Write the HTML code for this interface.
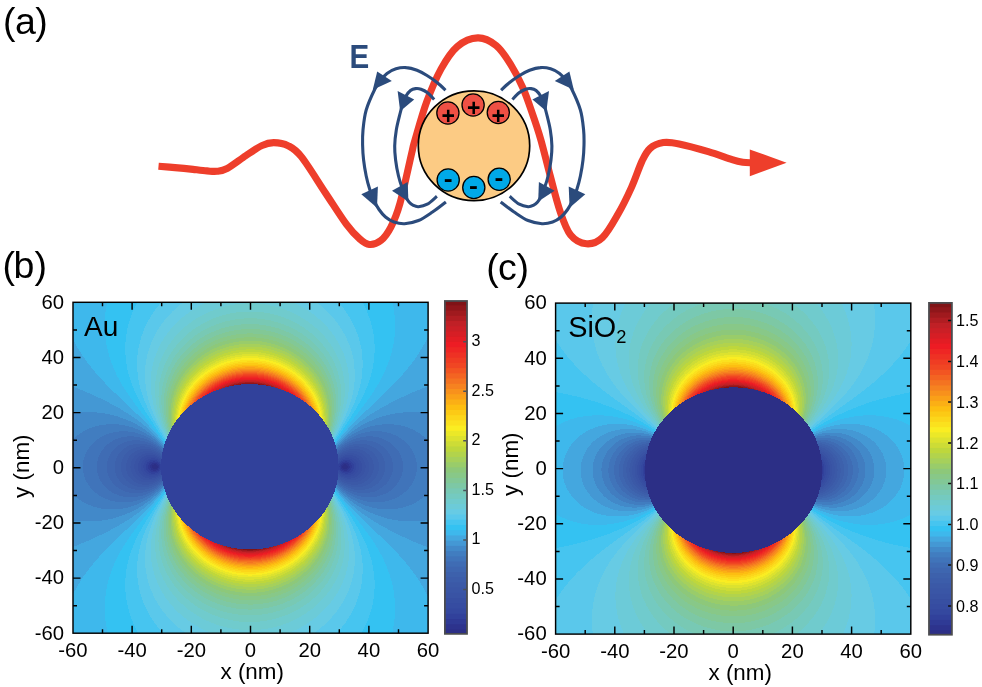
<!DOCTYPE html>
<html lang="en"><head><meta charset="utf-8"><title>Figure</title>
<style>html,body{margin:0;padding:0;background:#fff}body{width:982px;height:687px;overflow:hidden}svg{display:block}</style></head>
<body>
<svg width="982" height="687" viewBox="0 0 982 687" font-family="'Liberation Sans', sans-serif" fill="#000">
<rect width="982" height="687" fill="#fff"/>
<g id="hm-b" shape-rendering="crispEdges">
<rect x="73" y="302.3" width="355.1" height="330.9" fill="#2c2f86"/>
<path fill="#2d338d" d="M73 633.2l355 0 0-330.9-355 0zM154.3 469.2l-0.7-0.2-0.9-0.5-0.5-0.7-0.2-1.4 0.3-0.7 0.5-0.7 0.8-0.5 0.7-0.2 1.5 0.1 0.7 0.4 0.8 0.7 0.3 0.9 0.1 0.7-0.4 0.9-0.8 0.8-0.7 0.3zM344.5 469.2l-0.8-0.2-0.8-0.5-0.5-0.7-0.2-1.4 0.2-0.7 0.6-0.7 0.7-0.4 0.8-0.3 1.4 0.1 1.1 0.6 0.6 0.7 0.2 0.7-0.2 1.4-0.5 0.7-1.2 0.6z"/>
<path fill="#2f3a95" d="M73 633.2l355 0 0-330.9-355 0zM153.6 470.6l-1.9-0.8-1.1-1.1-0.5-1.6 0.1-1.4 0.8-1.4 1.1-0.8 1.5-0.6 2.2 0.1 1.5 0.7 1.3 1.3 0.4 1.4-0.1 1.4-0.9 1.5-1.5 1-1.4 0.4zM344.5 470.7l-1.5-0.5-1.5-1.3-0.6-1.1-0.1-0.7 0.1-1.4 0.9-1.4 1.2-0.9 1.5-0.5 2.2 0.1 1.5 0.7 1.1 1.3 0.4 1.4-0.1 1.4-0.7 1.4-1.5 1.1-1.5 0.4z"/>
<path fill="#31419b" d="M73 633.2l355 0 0-330.9-355 0zM152.1 471.9l-1.5-0.6-0.7-0.6-1.3-1.5-0.5-1.4-0.1-1.4 0.7-2.1 1.2-1.5 0.8-0.5 1.4-0.7 1.5-0.2 1.5 0 2.2 0.8 1.5 1 1.2 1.8 0.4 2.1-0.7 2.1-1.1 1.3-2.1 1.2-2.2 0.5zM344.5 472.1l-2.3-0.9-1.4-1.2-0.7-0.8-0.7-2.1 0.4-2.1 1-1.5 0.7-0.7 1.5-0.9 1.5-0.4 1.4-0.1 2.3 0.4 1.9 1.1 1.1 1.4 0.6 2.1-0.3 2.1-1.1 1.8-1.5 1.1-2.2 0.7z"/>
<path fill="#34489f" d="M73 633.2l355 0 0-330.9-355 0zM151.4 473.5l-1.5-0.6-1.5-0.9-0.9-0.8-0.9-1.4-0.6-1.3-0.2-1.4 0.1-1.4 0.4-1.4 1.4-2.1 1.4-1.2 1.5-0.7 1.5-0.4 2.2 0 1.5 0.3 1.5 0.5 2.2 1.5 1.6 2.1 0.5 2.1-0.1 1.4-0.4 1.4-0.8 1.3-0.8 0.8-2.2 1.6-1.5 0.5-1.5 0.3-1.5 0zM343.7 473.3l-1.5-0.6-1.2-0.8-1-0.9-0.9-1.2-0.6-1.3-0.3-1.4 0.1-1.4 0.5-1.4 0.8-1.4 1.2-1.1 1.4-0.9 1.5-0.6 1.5-0.4 2.2 0 1.5 0.3 1.5 0.6 1.1 0.8 1.1 1.1 0.6 0.9 0.6 1.4 0.2 1.4 0 1.4-0.7 2-0.7 1.1-1 1-1.2 0.8-1.3 0.6-2.4 0.4-1.5-0.1z"/>
<path fill="#364ca1" d="M73 633.2l355 0 0-330.9-355 0zM149.1 474.7l-1.5-0.7-1.8-1.4-1.1-1.4-1-2-0.3-1.4 0-2.1 0.6-2.1 0.7-1.3 1.2-1.4 1.8-1.3 1.7-0.8 2-0.4 1.4-0.1 2.3 0.2 2.2 0.8 1.5 0.8 1.4 1.2 0.9 1 0.9 1.3 0.5 1.4 0.3 1.4-0.1 1.4-0.4 1.4-0.6 1.3-1.1 1.4-1.1 1-1.5 1-2.2 0.9-1.5 0.4-2.2 0.1zM343.7 474.7l-2.2-1-1.5-1-1.4-1.5-0.8-1.3-0.5-1.4-0.3-1.4 0.3-2.1 0.5-1.4 0.9-1.3 1.3-1.4 1.5-1.1 2.2-1 2.2-0.5 2.3 0 2.2 0.5 1.5 0.6 1.4 1 1.3 1.2 0.9 1.3 0.6 1.4 0.3 1.4 0 2.1-0.3 1.4-0.6 1.3-0.9 1.4-1.3 1.3-1.4 1-1.5 0.6-3 0.5-2.2-0.2z"/>
<path fill="#374fa2" d="M73 633.2l355 0 0-330.9-355 0zM149.9 476.8l-2.2-0.5-1.5-0.7-1.5-0.9-1.5-1.3-1.1-1.5-0.7-1.4-0.5-1.3-0.3-2.1 0.2-2.1 0.4-1.4 1-2 1-1.4 1.5-1.3 1.5-1 1.5-0.6 2.2-0.5 2.2-0.2 2.2 0.3 2.2 0.7 2.3 1.1 2 1.5 1.2 1.4 1.2 2 0.7 2.1 54.7 0.7 6.7 0.7-61.4 0.7-0.6 2-1.2 2.1-1.2 1.4-2.1 1.6-2.3 1.1-2.2 0.7-2.2 0.2zM345.9 476.7l-2.2-0.5-1.5-0.6-1.4-0.9-1.5-1.1-2-2.4-1.7-3.4-61.1-0.7 6.7-0.7 54.4-0.7 1.3-2.8 0.9-1.3 1.5-1.6 2.2-1.6 2.2-1 2.2-0.6 3-0.1 2.2 0.3 2.2 0.8 1.5 0.9 1.8 1.5 1 1.4 0.8 1.3 0.6 2.1 0.2 2.1-0.3 2.1-0.8 2-0.9 1.4-1.2 1.4-1.9 1.4-1.5 0.7-2.2 0.6-2.2 0.2z"/>
<path fill="#3953a4" d="M73 633.2l355 0 0-330.9-355 0zM146.9 478.2l-2.2-0.8-2.2-1.3-1.7-1.4-1.1-1.4-0.8-1.4-0.9-2.1-0.3-2 0-2.1 0.4-2.1 0.8-2 1.4-2.1 1.3-1.4 1.6-1.2 1.7-0.8 2-0.8 2.2-0.3 2.3-0.1 2.2 0.3 2.2 0.6 2.2 1 2.2 1.4 1.5 1.3 1.1 1.4 1.1 1.7 78 3.8 1.7 0.7-79.7 3.8-1.4 2.3-1.5 1.5-2.2 1.6-2.3 1.2-2.2 0.7-2.9 0.5-2.3-0.1zM345.2 478.1l-3-1.1-2.2-1.3-2.2-2-2.2-2.8-79.4-3.8 1.7-0.7 77.7-3.8 2.2-2.7 1.5-1.4 2.2-1.5 3-1.3 2.2-0.6 2.9-0.2 3 0.4 2.2 0.7 2.2 1.2 1.5 1.2 1.6 1.8 1.1 2.1 0.7 2 0.3 2.1-0.3 2.8-0.6 2-1.2 2.1-1.6 1.9-1.5 1.1-2.2 1.3-2.2 0.7-2.2 0.3-3 0z"/>
<path fill="#3a56a6" d="M73 633.2l355 0 0-330.9-355 0zM146.2 480.3l-2.8-0.8-2.4-1.1-2.2-1.7-1.4-1.3-1.4-2.1-1-2.1-0.5-2-0.3-2.8 0.4-2.8 0.7-2 1.2-2.1 1.6-2.1 1.6-1.3 2.3-1.4 2.7-1.1 2.2-0.4 2.2-0.2 3 0.3 2.2 0.5 2.2 0.8 3.7 2.2 2.3 2 1.4 1.9 0.8 0.1 79.6 5.6 1.2 0.7-80.8 5.6-0.8 0.2-1.4 1.9-2.3 2-2.2 1.4-2.2 1-2.2 0.8-2.2 0.4-3 0.1zM347.4 480.2l-3.7-1.1-2.9-1.5-2.9-2.2-2.3-2.6-81.3-5.7 1.2-0.7 80.1-5.6 2.2-2.5 1.5-1.3 2.2-1.5 3-1.4 2.9-0.8 3-0.3 2.9 0.2 2.3 0.6 2.2 0.9 2.3 1.4 2.2 2 1.5 2.1 1 2.1 0.7 2.7 0 2.8-0.5 2.7-1.2 2.8-1.4 2.1-1.7 1.6-2.2 1.5-2.2 1.1-3 0.7-2.9 0.2z"/>
<path fill="#3b59a7" d="M73 633.2l355 0 0-330.9-355 0zM144.7 482.4l-2.9-0.7-2.3-0.9-2.2-1.3-2.5-2.1-1.7-2-1.5-2.8-0.9-2.8-0.3-2.7 0.2-2.8 0.7-2.7 1.4-2.8 1.5-2.1 2.2-2 2.4-1.6 3-1.2 2.9-0.7 2.2-0.2 3 0.2 2.9 0.5 2.3 0.8 2.2 1 2.2 1.3 2.2 1.8 2.2 2.3 0.8 0.4 80.8 7.1 0.9 0.7-81.7 7.2-0.8 0.3-2.2 2.4-2.2 1.7-2.2 1.4-2.2 1-2.3 0.7-2.9 0.6-3 0.1zM349.6 482.4l-2.2-0.5-2.2-0.6-3.7-1.8-3-2.1-2.9-3.1-82.2-7.2 0.9-0.7 81.3-7.1 2.2-2.5 2.2-1.8 2.2-1.4 3-1.3 3-0.8 2.9-0.4 3 0 2.2 0.3 2.9 0.9 3 1.5 2.7 2.3 1.8 2 1.5 2.8 0.9 2.7 0.3 2.8-0.3 3.4-0.9 2.8-1.5 2.8-2.3 2.6-2.2 1.7-3 1.5-2.9 0.9-3 0.4z"/>
<path fill="#3c5daa" d="M73 633.2l355 0 0-330.9-355 0zM141.8 484.5l-3-0.8-3-1.2-2.6-1.6-2.5-2.3-2-2.6-1.4-2.7-0.9-2.8-0.4-3.4 0.3-3.5 0.7-2.7 1.3-2.8 2-2.7 2.6-2.4 2.7-1.8 3.2-1.4 3-0.7 2.9-0.3 3 0.1 2.9 0.5 3 0.9 2.9 1.3 3 1.8 2.2 1.7 2.2 2.3 0.8 0.5 81.4 8.5 0.9 0.7-82.3 8.6-0.8 0.5-2.2 2.3-2.2 1.7-3 1.8-2.9 1.3-3 0.9-2.9 0.5-3 0zM350.4 484.4l-4.5-1.2-3.7-1.8-3.7-2.6-2.9-3-0.8-0.2-82-8.5 0.8-0.7 81.2-8.5 0.8-0.2 2.2-2.3 3-2.3 2.9-1.8 3-1.2 2.9-0.8 3.7-0.5 3.7 0.2 3 0.5 3.7 1.4 2.9 1.8 2.9 2.7 2 2.7 1.3 2.8 0.9 3.4 0.1 3.5-0.5 3.4-1.4 3.5-1.8 2.7-2.6 2.8-3.1 2-3.1 1.4-3.5 0.9-3.7 0.3z"/>
<path fill="#3d61ac" d="M73 633.2l355 0 0-330.9-355 0zM140.3 487.1l-3.7-0.7-3.7-1.3-3-1.7-3.1-2.5-2.4-2.8-2-3.4-1.1-3.5-0.5-3.4 0.2-4.2 0.9-3.4 1.7-3.5 1.9-2.6 2.9-2.9 3-1.9 3.2-1.5 3.5-1 3.1-0.4 3.5 0 3.7 0.5 3.7 1.1 3.7 1.6 3 1.8 2.9 2.3 3 2.8 82 9.9 0.6 0.7-82.6 9.9-3 2.9-2.2 1.8-3 1.9-2.9 1.4-3 1.1-3.7 0.8-3.7 0.3zM354.8 487.1l-2.9-0.4-2.3-0.5-2.9-1-2.2-1-4.5-2.7-2.2-1.9-2.2-2.2-0.8-0.4-82.3-9.9 0.7-0.7 0.3 0 81.3-9.8 0.8-0.4 2.2-2.3 3-2.3 2.9-1.9 3.7-1.6 3.7-1.1 3.7-0.6 3.7 0 3 0.4 4.4 1.3 3.5 1.7 3.2 2.5 2.7 3.1 2 3.4 1.2 3.5 0.5 3.4-0.2 4.1-1.1 4.2-1.8 3.4-2.2 2.8-3.1 2.7-3.6 2.1-4.1 1.5-3.7 0.6z"/>
<path fill="#3e66b0" d="M73 633.2l355 0 0-330.9-355 0zM136.6 489.8l-4.5-0.8-4.4-1.8-3.7-2.2-3-2.6-2.9-3.6-1.8-3.4-1.2-3.5-0.6-4.1 0.2-4.2 1.1-4.1 1.5-3.4 2.4-3.5 2.8-2.8 3.8-2.7 3.6-1.8 4.5-1.2 3.7-0.5 4.4 0 4.4 0.8 3.7 1.1 3.7 1.6 3.7 2.2 3.7 2.9 3 3 82.1 11.2 0.8 0.7-82.9 11.2-3 3.1-2.9 2.4-3 1.9-3.7 1.8-3.7 1.3-3.7 0.8-4.4 0.4zM357 489.9l-2.9-0.4-3-0.8-2.9-1-3-1.4-3-1.7-2.2-1.6-5.2-4.7-82.6-11.2 0.6-0.7 82-11.1 3.7-3.5 3.7-2.8 3.7-2.1 3.7-1.6 3.7-1 4.5-0.7 4.4 0 3.7 0.6 4.4 1.3 4.4 2.3 3.5 2.7 3 3.5 1.3 2.1 1 2 1.3 4.2 0.5 4.1-0.1 2.1-0.4 2.7-1.3 4.2-1 2-1.3 2.1-2.9 3.4-3.5 2.8-3.8 2.1-4.4 1.4-4.4 0.7z"/>
<path fill="#3f6cb4" d="M73 633.2l355 0 0-330.9-355 0zM135.1 493.3l-5.2-0.5-5.2-1.5-4.6-2.2-3.9-2.7-3.5-3.5-1.5-2-1.3-2.1-1.8-4.1-0.6-2.1-0.5-2.8-0.2-4.8 0.4-2.7 0.5-2.1 1.5-4.1 2.5-4.2 1.7-2.1 1.7-1.7 4-3.1 4.2-2.2 5.1-1.7 4.5-0.7 5.2-0.1 5.1 0.7 4.5 1.3 4.4 1.8 4.4 2.5 3.7 2.8 2.3 2 2.2 2.4 0.7 0.3 81.4 12.2 0.5 0.1 0.5 0.7-82.4 12.4-0.7 0.3-3 3.1-3.7 3-2.9 2-3.7 1.9-3.7 1.5-4.5 1.3-3.7 0.5zM362.9 493.3l-4.4-0.4-3.7-0.8-3.7-1.2-3.7-1.6-3.7-2.1-2.9-2.1-3-2.5-3-3.1-82.9-12.4 0.8-0.7 82.1-12.4 3.7-3.7 4.5-3.5 4.4-2.5 4.5-1.9 4.4-1.3 5.2-0.8 5.1 0.1 4.5 0.6 5.2 1.7 4.4 2.3 2.2 1.6 2.2 1.9 3 3.4 2.5 4.2 0.9 2 0.8 2.8 0.7 4.8-0.2 4.8-0.6 2.8-0.7 2.1-2 4.1-1.4 2.1-1.6 2-3.7 3.5-4.4 2.7-2.1 1.1-2.9 1-5.3 1.1z"/>
<path fill="#4074ba" d="M73 633.2l355 0 0-330.9-355 0zM124.7 496.8l-2.9-0.6-3-0.8-5-2.1-4.5-2.8-4-3.4-3.4-4.2-1.3-2-1.4-2.8-1.7-4.8-0.7-4.8 0-2.8 0.2-2.8 1.1-4.8 2.1-4.8 2.8-4.1 1.7-2.1 2.1-2.1 2.4-1.9 2.2-1.5 2.6-1.4 2.6-1.2 5.2-1.7 5.2-0.8 5.9-0.2 5.9 0.8 5.9 1.6 5.9 2.5 5.2 3.2 4.4 3.4 5.2 5 82.1 13.6 0.5 0.7-82.6 13.6-4.4 4.4-4.5 3.6-5.1 3.2-5.2 2.4-5.2 1.7-5.2 1-5.9 0.3zM362.9 496.8l-3.7-0.7-3.6-1.1-3.7-1.4-3.7-1.8-3.7-2.3-3-2.1-3.7-3.3-3-3.2-0.7-0.2-82.3-13.6 0.5-0.7 0.4-0.1 81.4-13.4 0.7-0.3 2.3-2.4 2.9-2.8 4.5-3.4 5.1-3 6-2.5 5.9-1.5 5.9-0.7 5.9 0.2 3 0.4 2.9 0.7 3 1 2.9 1.2 3 1.6 2.3 1.6 2.6 2 2.1 2.1 1.8 2.1 1.9 2.7 1.5 2.8 1.1 2.7 0.9 2.8 0.5 2.7 0.2 2.8 0 2.8-0.3 2.7-0.6 2.8-0.9 2.7-1.2 2.8-1.6 2.8-1.5 2-2.1 2.5-2.3 2.1-2.2 1.8-2.9 1.9-2.8 1.4-3.2 1.2-2.9 0.9-3 0.7-5.9 0.5-3-0.1z"/>
<path fill="#417dc0" d="M73 633.2l355 0 0-330.9-355 0zM120.3 502.3l-3.7-0.4-3-0.6-3.7-0.9-2.9-1.1-3.7-1.6-3-1.6-2.9-2-2.3-1.8-2.6-2.5-1.9-2-2-2.8-1.7-2.7-1.4-2.8-1-2.8-0.8-2.7-0.6-3.5-0.2-2.7 0.1-3.5 0.4-3.4 0.7-2.8 0.9-2.7 1.2-2.8 1.5-2.8 1.9-2.7 2.3-2.8 2.1-2 2.4-2.1 2.9-2.1 5.5-3 2.9-1.2 3.7-1.1 5.9-1.2 6-0.4 6.6 0.4 5.9 1.1 4.5 1.4 3.7 1.4 4.4 2.2 3.7 2.2 3.7 2.5 3.7 3.1 3 2.8 2.9 3.3 82.1 14.8 0.7 0.7-82.8 14.9-4.4 4.7-5.2 4.4-5.2 3.5-5.9 3.1-5.9 2.3-5.9 1.5-6.7 0.8zM373.3 502.3l-5.2-0.6-5.2-1.1-5.1-1.8-5.2-2.3-5.2-3-4.4-3.2-3.7-3.2-4.5-4.7-0.7-0.5-82.4-14.8 0.4-0.7 0.6-0.1 81.4-14.6 0.7-0.6 3-3.2 3.7-3.4 3-2.4 3.7-2.5 4.4-2.6 3.7-1.7 4.4-1.6 3.7-1.1 5.9-1.1 6.7-0.3 5.9 0.4 5.9 1.3 3.4 1.1 3.3 1.4 3 1.5 3 1.9 2.8 2.1 2.3 2.1 2.5 2.7 2.1 2.8 1.7 2.7 1.6 3.5 1.2 3.4 0.7 2.8 0.4 3.4 0.1 3.5-0.3 3.4-0.5 2.8-1 3.4-1.1 2.8-1.5 2.7-1.7 2.8-2.2 2.8-2.7 2.7-2.4 2.1-2.8 2-3 1.8-2.9 1.5-3 1.1-3.7 1.2-3.7 0.8-3.7 0.5-3.7 0.2z"/>
<path fill="#4289c9" d="M73 633.2l355 0 0-140.3-4.7 4.5-4.9 3.5-2.9 1.8-3.3 1.6-6.3 2.4-6.7 1.7-6.7 0.9-6.6 0.1-7.4-0.6-6.7-1.3-5.9-1.8-5.9-2.4-5.9-3.1-5.9-3.8-5.2-4.1-4.5-4.2-4.4-5-82.6-16 0.5-0.7 82.1-16 4.4-4.9 4.5-4.2 5.2-4.1 5.9-3.8 5.9-3.1 5.9-2.4 5.9-1.8 6.7-1.3 7.4-0.7 6.6 0.2 6.7 0.8 6.7 1.7 6.6 2.6 5.9 3.2 5.2 3.8 4.5 4.2-0.1-138.3-355 0 0 137.1 4.5-4 2.8-2.1 3-1.8 5.9-3 5.9-2 6.7-1.6 6.7-0.7 6.6 0 6.7 0.6 6.6 1.4 6 1.9 5.9 2.4 5.1 2.7 5.2 3.3 5.2 3.9 5.2 4.8 4.4 5 0.8 0.3 81.3 15.8 0.4 0.1 0.4 0.7-82.1 15.9-0.8 0.4-4.4 5-5.2 4.7-5.2 4-5.2 3.3-5.9 3-5.9 2.4-5.9 1.7-5.9 1.2-6.7 0.7-6.6 0-6.7-0.8-6.8-1.5-5.8-2.1-5.9-2.9-5.2-3.4-2.4-2-2.7-2.5z"/>
<path fill="#4498d4" d="M73 633.2l355 0 0-113.1-5.1 0.8-5.9 0.5-6 0.1-5.9-0.2-5.9-0.6-5.2-0.8-5.9-1.2-5.2-1.4-7.4-2.5-6.6-2.9-6.7-3.4-6.6-4.1-6-4.3-5.1-4.4-6-5.9-4.4-5.3-0.7-0.3-82-17.1 0.6-0.8 81.4-16.9 0.7-0.4 4.4-5.3 6-5.8 5.1-4.4 6-4.3 5.9-3.7 6.6-3.5 6.7-2.9 7.4-2.6 5.2-1.5 5.9-1.2 5.9-1 5.9-0.5 5.9-0.3 6 0.2 5.9 0.5 5.2 0.7-0.1-111.1-355 0 0 110.9 5.1-0.6 5.9-0.5 5.2-0.1 5.9 0.3 6 0.6 5.1 0.8 6 1.3 5.1 1.4 7.4 2.6 6.7 2.8 6.7 3.5 5.9 3.7 5.9 4.3 5.9 5 4.4 4.3 6 6.7 81.3 17 0.5 0.1 0.4 0.7-82.2 17.2-6 6.6-4.4 4.4-5.9 5-5.9 4.3-5.9 3.7-6.7 3.4-6.7 2.9-7.4 2.6-5.1 1.4-6 1.3-5.1 0.8-6 0.6-5.9 0.2-5.2-0.1-5.9-0.4-5.1-0.7z"/>
<path fill="#44a7df" d="M73 633.2l355 0 0-85.7-17-7-14.8-6.9-13.3-7-6.6-3.9-6-3.7-5.9-4.1-5.2-3.8-5.1-4.2-4.5-3.9-8.1-8-8.1-9.6-82.1-18.3 0.4-0.7 0.3-0.1 81.4-18.2 8.1-9.5 8.1-8.1 4.5-3.9 5.1-4.1 5.2-3.9 5.9-4 11.9-7.2 13.3-7.1 14.8-6.9 17.7-7.3 0-83.8-355 0 0 84.2 17 7.1 14.8 6.9 13.3 7.1 11.8 7.3 5.9 4 5.2 3.9 5.2 4.2 4.4 3.9 4.5 4.3 3.7 3.9 3.7 4.2 3.7 4.7 81.3 18.2 0.6 0.2 0.4 0.7-82.3 18.4-3 3.9-3.7 4.3-4.4 4.7-4.5 4.2-4.4 3.9-5.2 4.2-5.2 3.9-5.9 4.1-11.8 7.3-13.3 7-14.8 6.9-17 7.1z"/>
<path fill="#3eb8ec" d="M73 633.2l355 0 0.1-36.4-4.4-8.4-4.9-8.2-4.3-6.2-4.6-6.3-5.1-6.2-5.5-6.2-12-12.4-25.1-23.9-10.3-10.3-5.2-5.6-5.2-5.9-4.4-5.5-3.7-5-82.2-19.6 0.4-0.7 0.4-0.1 81.4-19.5 3.7-5 4.4-5.5 5.2-5.9 5.2-5.5 10.3-10.3 24.5-23.4 12.1-12.4 5.5-6.2 5.1-6.2 4.7-6.2 4.3-6.2 5-8.3 4.6-8.9 0-34.5-355 0 0 36.9 3.8 7.2 4.2 6.9 4.2 6.2 4.7 6.2 5 6.2 5.5 6.2 5.8 6.2 6.9 6.9 24.2 23.1 10.4 10.3 5.1 5.5 5.2 5.9 4.5 5.4 3.7 5 0.7 0.6 80.6 19.2 0.8 0.2 0.2 0.7-81.6 19.5-0.7 0.5-3.7 5-4.5 5.5-9.6 10.6-10.3 10.3-25.6 24.4-12 12.4-5.5 6.2-5.6 6.9-4.6 6.2-4.2 6.2-4.1 6.9-3.5 6.6z"/>
<path fill="#34c2f2" d="M107.7 633.2l284.5 0 1.6-8.2 1-8.3 0.3-8.3-0.3-8.2-0.9-8.3-1.7-8.3-2.3-8.3-3-8.2-3-6.9-3.5-6.9-4.4-7.6-4.5-6.9-9.5-13.1-21.2-27-7.4-10.3-0.8-0.7-81.4-20.6 0.3-0.7 0.5-0.2 80.6-20.4 0.8-0.6 7.4-10.3 21.2-27.1 8.6-11.7 4.5-6.9 4.6-7.6 3.6-6.9 3.1-6.9 2.9-7.6 2.5-8.3 1.7-8.2 1.2-8.3 0.4-8.3-0.2-8.3-0.8-8.2-1.5-8.3-285.4 0-1.5 8.3-0.8 8.2-0.2 8.3 0.4 8.3 1.2 8.3 1.8 8.2 2.2 7.6 3.1 8.3 3.1 6.9 3.7 6.9 4 6.9 4.6 6.9 9.5 13.1 20.5 26 8.1 11.2 80.6 20.5 0.8 0.2 0.3 0.7-81.7 20.7-8.1 11.3-20.4 25.9-9.6 13.1-4.5 6.9-4.5 7.6-3.5 6.9-3.1 6.9-3.1 8.2-2.4 8.3-1.6 8.3-1.1 8.3-0.3 8.2 0.3 9 1 8.3z"/>
<path fill="#46c5f0" d="M137.9 632.6l0.4 0.6 223.2 0 3.7-7 3.1-7.4 2.4-6.9 1.9-7.6 1.3-7.6 0.6-7.6 0.1-7.6-0.6-7.5-1-6.9-1.7-7.6-2.3-7.6-2.9-7.6-3.5-7.6-3.7-6.9-5.2-8.9-5.8-9-15.3-22.9-81.5-21.9 0.3-0.7 0.6-0.2 79.9-21.4 0.7-0.2 0.2-0.3 18.7-28.2 5.1-8.3 3.9-6.9 4.1-8.3 3.2-7.6 2.7-8.2 2-7.6 1.4-8.3 0.7-9-0.1-8.2-0.8-8.3-1.6-8.3-2.3-8.3-3.2-8.2-4-8.3-225.4 0-3.7 7.6-3.2 8.3-2.4 8.2-1.6 8.3-0.9 8.3-0.2 8.3 0.7 8.9 1.3 8.3 1.9 7.6 2.7 8.2 3.1 7.6 4.1 8.3 3.8 6.9 5 8.3 19.1 28.8 0.7 0.5 80.7 21.6 0.4 0.8-81.1 21.8-0.7 0.5-19.4 29.4-4.7 7.6-4.2 7.6-3.9 8.2-3.1 7.6-2.7 8.3-1.8 7.6-1.3 8.3-0.6 8.9 0.2 8.3 1.1 9 1.7 8.2 2.5 8.3 3.4 8.3z"/>
<path fill="#5ac8eb" d="M162.4 632.6l0.6 0.6 173.8 0 4.2-4.8 4.2-5.4 3.7-5.6 3.2-5.5 3.3-6.9 2.6-6.9 2.1-6.9 1.4-6.9 0.9-6.9 0.3-7.6-0.2-6.9-0.9-7.6-1.3-6.9-1.9-6.9-2.4-6.8-3.1-7.6-3.6-7.6-3.7-6.9-13-21.9-0.7-0.7-80.8-22.9 0.2-0.7 0.7-0.2 79.9-22.7 0.7-0.7 7.8-12.9 7.5-13.1 4.1-8.3 3.3-7.6 2.7-7.6 2.1-7.6 1.5-7.6 0.8-6.9 0.3-7.5-0.3-6.9-0.8-6.9-1.6-7.6-2-6.9-3-7.6-3.3-6.9-3.7-6.2-4.3-6.2-5.1-6.2-177.4 0-3.9 4.7-3.6 5-3.2 4.8-2.7 4.8-3.3 6.9-2.7 6.9-2 6.9-1.5 6.9-0.9 6.9-0.3 7.6 0.3 7.5 0.9 7.6 1.4 6.9 1.9 6.9 2.7 7.6 2.9 6.9 3.3 6.9 4.1 7.6 12.7 21.4 0.3 0.4 0.7 0.2 80 22.7 0.5 0.8-81.2 23-10.6 17.7-5.7 10.3-4.1 8.3-3.2 7.6-2.6 7.5-2 7.6-1.4 7.6-0.7 6.9-0.2 7.6 0.4 6.9 1.1 7.6 1.5 6.9 2.4 7.5 2.9 6.9 3.5 6.9 3.9 6.5 4.5 6.2z"/>
<path fill="#67cbe4" d="M185 632.6l1 0.6 127.8 0 6.2-4.6 5.2-4.5 5.2-5.2 4.4-5.1 4.1-5.4 4-6.2 3.3-6.2 2.7-6.1 2-5.6 1.5-5.5 1.2-5.5 0.8-6.2 0.4-5.6 0-6.2-0.4-5.5-0.9-6.2-1.3-6.2-1.5-5.5-2-6.2-2.2-5.5-2.4-5.5-3-6.2-9.2-17.2-80.9-24.2 0.2-0.7 0.8-0.3 79.9-23.8 9.3-17.3 3-6.2 2.9-6.9 2.8-7.6 2.2-7.5 1.6-7.6 0.9-7.6 0.2-7.6-0.4-7.6-0.9-6.9-1.8-7.6-2.3-6.9-2.9-6.8-3.7-6.9-4.3-6.7-5-6.4-5-5.6-5.5-5.1-6.4-5.2-133.4 0-5.2 4.2-5.2 4.7-4.4 4.6-4.5 5.3-3.9 5.3-3.4 5.5-3 5.7-2.7 6.1-1.9 5.5-1.6 5.5-1.2 5.5-0.8 6.2-0.4 5.5 0 6.2 0.5 6.2 0.8 5.6 1.1 5.5 1.5 5.5 2 6.2 2.4 6.2 2.7 6.2 3 6.2 8.6 16 0.8 0.7 79.9 23.9 0.2 0.1 0.3 0.7-80.4 24.1-0.8 0.7-8.6 15.9-3.6 7.5-3.5 8.3-2.6 7.6-2 7.6-1.4 7.6-0.8 7.6-0.1 7.5 0.6 7.6 1.2 6.9 1.9 7.6 2.5 6.9 3.1 6.9 3.9 6.9 4.3 6.3 4.9 6.1 5.4 5.7 5.9 5.3z"/>
<path fill="#6ccbd8" d="M210.1 632.6l1.7 0.6 76.2 0 6.1-2.5 5.2-2.5 4.5-2.5 4.4-2.8 4.4-3.1 4.5-3.5 3.7-3.2 3.7-3.6 3.5-3.8 3.1-3.8 3-4 3-4.6 2.3-4.2 2.4-4.8 1.8-4.1 1.7-4.9 1.4-4.8 1-4.8 0.7-4.2 0.5-4.1 0.2-4.8 0-4.8-0.3-4.9-1.3-8.9-2.1-9-1.6-4.8-2-5.5-4.4-10.4-5.1-10.3-0.9-1.4-0.3-0.2-80.1-25.3 0.2-0.7 0.8-0.3 79.1-24.9 0.8-0.9 3.2-6.3 5.4-11.7 3.4-9 2.4-8.3 1.6-7.6 1-8.2 0.2-7.6-0.4-7.6-1.1-6.9-1.9-7.6-2.7-7.6-3.2-6.9-4.1-6.8-4.4-6.3-5.2-6.2-5.6-5.5-6.4-5.4-6.6-4.7-7.4-4.3-7.2-3.5-86 0-5.2 2.5-4.5 2.4-4.4 2.7-4.4 3-4.5 3.3-3.9 3.3-3.6 3.5-3.9 4.1-3.4 4-3.2 4.3-2.7 4.1-2.8 4.9-2 4.1-2.1 4.8-1.7 4.8-1.4 4.9-1 4.1-0.8 4.8-0.4 4.2-0.3 4.8 0.2 9 0.6 4.8 0.8 4.8 1 4.8 1.3 4.9 3.1 8.9 4.4 10.4 6.3 12.6 79.9 25.1 0.3 0.2 0.3 0.7-80.5 25.4-5.6 11.1-4.3 9.7-3 8.3-2.3 8.2-1.6 8.3-0.8 7.6-0.1 7.6 0.6 7.6 1.4 7.5 2.1 7.6 2.9 7.6 3.4 6.9 4.3 6.9 4.7 6.2 5.5 6.2 6.1 5.7 6.7 5.2 6.6 4.4 7.4 4z"/>
<path fill="#70cbcd" d="M240.8 629.8l9.7 0.4 9.6-0.5 9.6-1.4 9.7-2.4 8.8-3.1 8.9-4.1 8.1-4.8 7.4-5.4 3.7-3.1 3.5-3.2 6.2-6.8 5.2-7 4.5-7.6 2-4.1 1.7-4.1 1.5-4.2 1.3-4.1 1.7-8.3 0.5-4.1 0.3-4.8 0-6.2-0.4-6.2-1-6.3-1.3-6.2-1.8-6.2-2.7-7.5-2.8-6.9-3.6-7.8-0.7-0.4-79.5-26.3 0.2-0.7 0.9-0.3 78.2-25.9 0.9-0.5 3.3-7.1 2.9-6.9 2.3-6.2 1.7-5.5 1.4-5.5 1.1-6.2 0.7-5.5 0.3-5.6-0.3-8.2-1.1-8.3-2.1-8.3-2.7-7.6-3.7-7.5-4.5-7.3-5.2-6.8-5.9-6.3-6.7-5.9-7.4-5.3-7.4-4.4-8.1-3.9-8.1-3.1-8.9-2.4-9.6-1.7-8.9-0.8-9.6 0.1-8.9 0.8-9.6 1.8-8.9 2.6-8.9 3.5-8.1 4-7.4 4.6-7.4 5.7-6.7 6.2-5.9 6.7-5 7-4.3 7.6-3.4 7.6-2.6 8.3-1.7 8.2-0.7 8.3 0 6.2 0.5 6.9 1.1 6.9 1.5 6.2 1.8 6.2 2.8 7.6 4.5 10.3 1.1 2.4 0.7 0.9 79.2 26.2 0.4 0.2 0.3 0.7-79.9 26.4-0.8 1.2-4.6 10.3-2.5 6.2-2 6.2-1.5 5.5-1.4 6.2-0.8 5.6-0.4 5.5 0 8.2 0.8 7.6 1.8 8.3 2.4 7.6 3.3 7.6 4.2 7.4 5.1 7 5.3 6.3 6.5 6.2 6.8 5.3 7.4 4.8 7.4 3.9 8.2 3.4 8.8 2.9 8.9 1.9z"/>
<path fill="#74cac0" d="M239.3 621.5l9 0.6 9.6-0.3 9.6-1.3 8.9-2 8.9-3 8.1-3.5 8.1-4.6 7.4-5.1 6.7-5.7 3.4-3.3 3.1-3.5 5.3-7 4.6-7.5 3.6-7.6 1.6-4.1 1.3-4.1 1.8-8.3 0.7-4.8 0.3-4.2 0-5.5-0.3-5.5-0.7-5.5-1.2-6.2-1.6-6.2-2-6.2-3.2-8.3-1.5-3.4-0.4-0.7-79.5-27.6 0.3-0.8 79.2-27.5 1.1-2.1 3-7.5 2.2-6.2 1.6-5.6 1.3-5.5 0.8-4.8 0.7-5.5 0.2-4.8-0.2-8.3-1.2-8.3-1.9-7.6-2.7-7.6-3.7-7.5-4.2-6.8-4.8-6.3-5.5-6-6.7-5.9-6.6-4.9-7.4-4.5-7.4-3.6-8.2-3.1-8.1-2.3-8.9-1.7-8.9-0.8-8.8-0.1-8.9 0.8-8.9 1.6-8.9 2.4-8.1 3-8.1 4-7.4 4.5-7.4 5.5-6.7 6.1-5.6 6.3-5 6.9-4 6.9-3.4 7.6-2.5 7.6-1.8 8.3-0.8 8.2-0.1 5.6 0.3 5.5 0.8 6.2 1.1 5.5 1.4 5.5 2 6.2 2.3 6.2 2.7 6.6 0.8 0.5 78.4 27.2 0.4 0.2 0.3 0.6-79.1 27.6-0.8 0.4-4 10-3.2 9.7-1.2 4.8-1 4.8-1 9-0.2 8.2 0.7 7.6 1.4 7.6 2.3 7.6 3.1 7.6 3.8 6.9 4.5 6.7 5.2 6.3 5.9 5.9 6.7 5.5 6.6 4.5 7.4 4.1 8.2 3.6 8.1 2.8 8.1 2z"/>
<path fill="#78c9b4" d="M248.6 615.3l8.6-0.2 8.8-1.1 8.9-2 8.2-2.6 8.1-3.5 7.4-4 6.6-4.4 6.7-5.4 5.9-5.9 5.6-6.7 4.6-6.9 3.6-6.9 3-7.6 2.1-7.6 1.3-7.6 0.5-8.2-0.1-4.9-0.4-4.8-0.7-4.8-1.1-5.5-1.5-5.6-1.7-5.5-2.6-6.9-0.7-0.9-78.8-28.7 0.3-0.8 78.5-28.6 0.3-0.3 0.7-1.3 2.5-6.9 2.8-9.7 1.6-8.3 0.8-8.2 0-8.3-0.9-7.6-0.8-4.1-1.1-4.2-2.6-7.6-2.5-5.5-3.1-5.6-3.6-5.4-3.8-4.8-4.4-4.9-4.4-4.2-5.2-4.2-5.2-3.6-5.9-3.5-5.9-2.9-5.9-2.4-6.7-2.2-5.9-1.5-6.7-1.3-6.6-0.7-6.7-0.3-8.9 0.4-8.9 1.2-8.1 1.8-8.1 2.7-8.2 3.5-7.4 4-6.6 4.5-6.7 5.5-5.9 5.9-5.2 6.3-4.4 6.6-3.8 7.2-3 7.6-2.2 7.6-1.3 7.6-0.5 8.2 0.1 4.9 0.4 4.8 0.7 4.8 1 4.8 1.4 5.5 1.5 4.9 2.4 6.9 1.1 2.2 78.4 28.5 0.5 0.3 0.2 0.7-79.1 28.8-1 2.2-2.3 6.2-2.8 9.7-1.6 8.2-0.8 8.3 0.1 8.3 0.8 7.6 0.8 4.1 1.1 4.1 2.6 7.6 2.4 5.5 3.1 5.6 3.5 5.3 3.7 4.8 4.4 4.9 4.5 4.2 5.1 4.2 5.2 3.6 5.2 3.2 5.9 3 5.9 2.5 6.7 2.3 6.6 1.7 6.7 1.3 6.7 0.7z"/>
<path fill="#7dc8a5" d="M240.7 609.1l9.1 0.5 8.8-0.4 8.9-1.3 8.2-2 8.1-2.7 7.4-3.4 7.4-4.1 7.4-5.2 6.3-5.5 5.8-6.2 5.2-6.9 4.2-6.9 3.5-7.6 2.5-7.6 1.6-7.6 0.9-8.2 0-8.3-1-9-1-4.8-1.2-4.8-3.1-9.8-1.2-0.6-77.7-29.6 0.2-0.7 0.2-0.2 77.5-29.5 1-0.5 2.5-7.7 2.1-8.3 1.3-7.6 0.5-7.6-0.2-7.6-1-7.5-1.8-7.6-2.5-6.9-3.2-6.9-4.1-6.9-4.7-6.3-5.2-5.6-5.9-5.4-6.7-5-6.7-4-7.4-3.7-8.1-3.1-8.1-2.2-8.2-1.5-8.1-0.7-8.9 0-8.1 0.8-8.2 1.5-8.1 2.2-8.1 3.2-7.4 3.6-6.7 4.1-6.6 5-6 5.5-5.5 6.1-4.8 6.7-4.1 7.1-3.1 6.9-2.4 7.5-1.6 7.6-0.8 7.6-0.1 4.2 0.2 4.8 0.4 4.8 0.8 4.8 1.2 5.5 1.5 5.6 2.1 6.3 0.7 1.1 77.7 29.5 0.5 0.3 0.2 0.4 0 0.3-0.7 0.3-77.7 29.6-0.7 1.1-1.2 3.5-2.7 9.6-1.5 7.6-0.7 6.9 0 7.6 0.7 7.6 1.5 7.5 2.1 6.9 2.9 6.9 3.7 6.9 4.3 6.2 4.9 6 5.9 5.8 6 4.8 6.6 4.5 7.4 4 7.4 3.2 7.4 2.5 8.1 1.9z"/>
<path fill="#82c896" d="M242.6 604.3l8.6 0.3 8.2-0.5 8.9-1.4 8.1-2.1 8.1-2.9 7.4-3.5 7.4-4.5 6.5-4.7 6.1-5.5 5.2-5.8 4.9-6.6 4-6.9 3.1-6.9 2.5-7.6 1.6-7.6 0.8-8.3-0.1-7.6-0.9-8.2-1.8-8.3-1.7-6.2-0.6-1.2-78.1-31.2 0.2-0.7 0.2-0.2 77.7-30.9 0.4-0.6 1.6-5.5 1.7-7.6 1-6.9 0.4-6.9-0.2-7.6-1-6.9-1.8-7.6-2.5-6.9-3.3-6.9-4.2-6.9-4.7-6-5.1-5.6-6-5.2-6.6-4.9-6.7-3.9-7.4-3.5-7.4-2.7-8.1-2.2-8.1-1.4-7.4-0.6-8.2 0.1-8.1 0.8-8.2 1.5-8.1 2.4-7.4 2.8-7.4 3.8-6.6 4.1-6.7 5.1-5.9 5.6-5.2 5.9-4.4 6.3-3.8 6.6-3 6.9-2.5 7.6-1.5 7.6-0.7 7.6 0.1 8.2 1 8.3 1 4.8 1.4 5.5 1.3 4.3 0.5 0.6 77.2 30.7 0.6 0.3 0.1 0.3 0 0.5-0.7 0.3-77 30.6-0.7 0.6-0.2 0.8-2.6 9.6-1.4 7.6-0.6 6.9 0.1 7.6 0.7 6.9 1.6 7.6 2.2 6.9 3 6.9 3.9 6.7 4.4 6.2 4.9 5.7 5.5 5.2 5.9 4.7 6.6 4.4 7.4 3.8 7.4 3.1 7.4 2.3 8.2 1.8z"/>
<path fill="#88c888" d="M246.6 600.2l8.3-0.1 8.2-0.9 8.1-1.6 7.4-2.2 7.4-2.9 7.4-3.8 6.7-4.3 6.6-5.2 5.9-5.8 4.8-5.7 4.2-6.2 3.8-6.9 2.8-6.8 2.2-7.6 1.4-7.6 0.5-7.6-0.2-6.2-0.8-6.9-1.8-9-0.8-2.7-0.5-0.8-77.5-32.3 0.2-0.7 0.3-0.2 77-32 0.5-0.9 0.6-2.1 1.8-8.2 0.9-6.9 0.3-6.2-0.4-7.6-1.2-7.6-1.8-6.9-2.6-6.9-3.5-6.9-3.9-6.2-4.8-6-5.2-5.4-5.9-5.1-6.6-4.6-6.7-3.8-7.4-3.4-7.4-2.5-8.1-2-8.2-1.2-7.4-0.4-8.1 0.2-7.4 0.9-8.1 1.7-7.4 2.3-7.4 3.1-7.4 3.9-6.7 4.4-5.9 4.8-5.9 5.8-4.9 5.9-4.2 6.2-3.7 6.9-2.7 6.9-2 6.9-1.3 7.6-0.5 7.6 0.1 6.2 0.8 6.9 1.2 6.2 1.6 6.3 77 32 0.7 0.4 0 0.7-77.6 32.3-1.6 5.5-1.2 6.2-0.8 6.2-0.2 5.5 0.2 7.6 1 6.9 1.9 7.6 2.5 6.9 3 6.2 4 6.6 4.5 5.8 5.1 5.6 6 5.3 5.9 4.3 6.6 4.1 7.4 3.5 7.4 2.8 8.2 2.1 7.4 1.3z"/>
<path fill="#8dc87a" d="M242.5 596l8 0.3 8.1-0.4 8.2-1.2 8.1-2.1 7.4-2.6 7.4-3.4 6.7-3.9 6.6-4.9 5.9-5.2 5.2-5.7 4.5-6 4.1-6.9 3.2-6.9 2.5-7.6 1.5-7.6 0.7-7.6 0-6.2-0.6-6.9-1.7-9-0.5-1.3-0.4-0.4-76.7-33.4 0.2-0.7 0.3-0.3 76.2-33 0.5-0.5 0.3-0.7 1.3-6.2 0.8-5.5 0.4-6.2-0.2-7.6-0.9-6.9-1.6-6.9-2.4-6.9-3.3-6.9-3.7-6.2-4.5-5.9-5.2-5.7-5.9-5.3-5.9-4.3-6.7-4-6.6-3.2-7.4-2.8-7.4-2-8.1-1.5-7.4-0.6-7.4 0-8.2 0.8-8.1 1.5-7.4 2.1-7.4 2.9-7.4 3.8-6.7 4.2-5.9 4.6-5.9 5.6-4.9 5.7-4.3 6.2-3.5 6.2-3 6.9-2.1 6.9-1.4 6.9-0.7 7.6 0 6.2 0.5 6.2 1.2 6.9 0.7 3.4 0.5 1 76.9 33.5 0 0.8-76.9 33.4-0.6 1.6-1.3 6.3-0.6 4.8-0.4 4.1 0 7.6 0.7 6.9 1.4 6.9 2.1 6.9 3 6.9 3.4 6.2 4.1 5.9 5 5.8 5.4 5.2 5.9 4.7 5.9 3.9 6.7 3.6 7.4 3.2 7.4 2.3 7.4 1.6z"/>
<path fill="#99cc6a" d="M243 592.6l7.5 0.3 8.1-0.5 8.2-1.2 7.4-1.9 7.4-2.6 7.4-3.4 6.6-3.9 6.7-4.9 5.9-5.3 5-5.6 4.6-6.2 3.7-6.4 3.3-7.4 2.2-6.9 1.5-6.9 0.7-7.6 0-6.2-0.5-6.2-1.3-7.4-0.7-0.8-76.1-34.5 0.3-0.7 0.3-0.3 75.6-34.2 0.6-0.7 0.9-4.8 0.7-5.5 0.3-4.8-0.3-7.6-0.9-6.9-1.7-6.9-2.1-6.2-3.3-6.9-3.7-6.2-4.1-5.5-5-5.5-5.9-5.3-5.9-4.4-6.7-4-6.6-3.2-7.4-2.8-7.4-2-7.4-1.3-7.4-0.6-7.4 0-8.2 0.8-7.4 1.4-7.4 2.1-7.4 2.8-6.6 3.3-6.7 4.2-5.9 4.5-5.5 5.1-4.9 5.6-4.4 6.1-3.7 6.4-3 6.8-2.2 6.9-1.4 6.9-0.8 7.5 0 5.6 0.4 5.5 1.1 7.6 0.3 1.3 0.4 0.6 76.2 34.6 0.1 0.7-0.1 0.1-76.2 34.6-0.5 1.1-0.7 3.5-0.6 4.8-0.4 4.1 0 6.9 0.7 6.9 1.3 6.9 2.1 6.9 3 6.9 3.3 5.9 3.9 5.8 4.9 5.8 5.2 5.1 5.9 4.7 6 3.9 6.6 3.6 7.4 3.1 7.4 2.4 7.4 1.6z"/>
<path fill="#a6d05b" d="M240 589.1l8.3 0.6 8.1-0.2 7.4-1 8.2-1.8 7.4-2.4 7.3-3.2 6.7-3.7 6.7-4.7 5.9-5.1 5.2-5.4 4.7-6.2 3.8-6.2 3.2-6.9 2.4-6.9 1.6-6.9 0.9-7.5 0.2-4.9-0.2-5.5-0.9-6.9-0.2-1-0.4-0.4-75.7-35.8 0.2-0.7 0.4-0.3 75.3-35.6 0.3-0.6 0.6-4.2 0.6-6.9-0.2-6.9-0.8-6.9-1.5-6.9-2.3-6.9-2.8-6.2-3.7-6.2-4.1-5.6-4.7-5.4-5.2-4.8-5.6-4.4-6.7-4.2-6.6-3.3-6.7-2.7-7.4-2.2-7.4-1.4-7.4-0.8-8.1-0.1-7.4 0.6-7.4 1.3-7.4 2-7.4 2.8-6.6 3.2-6.7 4-5.9 4.5-5.4 4.8-5 5.5-4.1 5.5-3.7 6.2-2.9 6.3-2.4 6.8-1.6 6.9-0.9 7.6-0.2 5.5 0.3 5.6 0.8 6.2 0.1 0.7 0.6 0.8 75.5 35.7 0.1 0.7-0.2 0.2-75.4 35.6-0.5 0.7-0.2 0.7-0.9 7.6-0.2 6.9 0.6 6.9 1 6.2 1.9 6.9 2.5 6.2 3.2 6.3 3.9 6.1 4.4 5.5 5 5.1 5.3 4.6 5.8 4.1 6.6 3.9 6.7 3 6.6 2.4 7.4 1.9z"/>
<path fill="#b2d34c" d="M240.9 586.4l8.1 0.5 7.4-0.3 8.2-1.1 7.4-1.7 7.4-2.4 7.3-3.3 6.7-3.8 6.3-4.5 5.5-4.8 5.2-5.5 4.7-6.2 3.8-6.2 3.2-6.9 2.3-6.9 1.5-6.9 0.8-7.6 0-7.6-0.7-6.9-75.5-37.2 0.3-0.7 0.4-0.3 74.8-36.8 0.5-4.3 0.3-4.8-0.2-6.9-0.8-6.9-1.6-6.9-2.2-6.2-2.8-6.2-3.6-6.1-4.1-5.6-4.8-5.4-5.2-4.7-5.9-4.5-5.9-3.7-6.6-3.4-6.7-2.6-7.4-2.1-7.4-1.5-7.4-0.7-7.4 0-7.4 0.6-7.4 1.3-7.4 2-7.4 2.8-6.6 3.3-6 3.7-6.1 4.5-5.2 4.9-5 5.5-4.4 6.1-3.6 6.3-2.8 6.2-2.2 6.9-1.5 6.9-0.7 6.9-0.1 4.8 0.2 4.8 0.5 4.2 0.3 0.7 0.3 0.3 74.8 36.9 0.1 0.7-0.2 0.2-74.7 36.8-0.6 0.9-0.6 5.5-0.1 6.9 0.6 6.9 1.3 6.9 1.8 6.2 2.5 6.2 3.2 6.1 3.7 5.6 4.5 5.5 5.2 5.3 5.1 4.3 6 4.2 6.6 3.7 6.7 3 6.6 2.2 7.4 1.8z"/>
<path fill="#bed73c" d="M239.8 583.6l7.7 0.6 7.4-0.1 8.2-0.9 7.4-1.6 7.4-2.4 6.6-2.8 6.7-3.6 6.6-4.5 6-5 5.1-5.4 4.8-6 3.8-6.2 3.3-6.9 2.4-6.9 1.6-6.9 0.8-6.9 0.1-6.9-0.5-5.7-74.7-38.4 0.2-0.7 0.5-0.4 74-38 0.5-5-0.1-6.9-0.7-6.9-1.5-6.9-2.1-6.2-2.7-6.2-3.2-5.6-3.8-5.5-4.9-5.6-5.2-4.9-5.9-4.7-5.9-3.7-6.6-3.4-6.7-2.7-7.4-2.2-6.7-1.3-7.4-0.8-7.4-0.1-7.4 0.5-6.6 1.1-7.4 1.9-6.7 2.4-6.6 3.1-6.7 3.9-5.9 4.4-5.2 4.5-5.2 5.6-4.1 5.5-3.7 6.2-3 6.2-2.4 6.9-1.6 6.9-0.8 6.9-0.1 4.1 0.1 4.8 0.2 2.8 0.2 0.7 0.4 0.5 74.1 38.1 0.1 0.7-0.2 0.2-74 37.9-0.4 0.5-0.3 2.1-0.2 6.9 0.4 6.9 1.1 6.2 1.9 6.9 2.4 6.2 2.8 5.5 3.4 5.5 4.5 5.7 5 5.3 5.3 4.6 6 4.2 5.9 3.5 6.6 3.1 6.7 2.3 6.6 1.8z"/>
<path fill="#cddc36" d="M243.1 581.5l7.4 0.3 7.4-0.4 7.4-1.1 7.4-1.8 7.4-2.6 6.6-3.1 6.7-4 5.9-4.4 5.5-4.9 4.9-5.4 4.1-5.7 3.6-6.2 2.9-6.2 2.2-6.9 1.5-6.9 0.7-6.9 0.1-4.1-0.2-4.1-0.1-0.3-0.6-0.4-73.4-39.3 0.2-0.7 0.5-0.4 72.9-38.9 0.4-0.3 0.1-0.4 0.1-2.8-0.1-6.8-0.7-6.3-1.4-6.2-2.3-6.9-2.8-6.2-3.6-6.2-4.1-5.5-4.5-5-5.1-4.8-6-4.4-5.9-3.7-6.6-3.3-6.7-2.5-7.4-2.1-7.4-1.3-6.6-0.6-7.4 0-7.4 0.7-6.7 1.3-7.4 2.1-6.7 2.5-6.6 3.4-5.9 3.7-5.9 4.5-5.2 4.8-4.7 5.4-4 5.5-3.5 6.2-2.8 6.2-2.2 6.9-1.4 6.9-0.6 6.9 0.1 6.9 0.1 0.7 0.5 0.7 73.3 39.3 0.1 0.7-0.2 0.2-73.2 39.2-0.5 0.6-0.2 1.4 0 6.8 0.6 6.3 1.4 6.8 1.9 6.3 2.7 6.2 3 5.5 3.7 5.5 4.6 5.5 5 4.9 5.2 4.2 5.9 4 6.6 3.6 6.7 2.8 6.6 2.2 6.7 1.5z"/>
<path fill="#dce22f" d="M245.2 579.5l7.5 0.1 7.4-0.7 7.4-1.3 7.4-2.1 6.7-2.6 6.6-3.3 5.9-3.7 6-4.6 5.1-4.9 5-5.9 3.9-5.6 3.4-6.1 2.6-6.2 1.8-6.2 1.4-6.9 0.5-6.9 0-4.1-0.4-0.7-73-40.7 0.3-0.7 0.5-0.4 72.4-40.3 0.2-1.4-0.2-6.9-0.9-6.9-1.5-6.2-2.2-6.2-3-6.2-3.4-5.5-4.1-5.5-4.7-5.2-5.2-4.6-5.9-4.4-6-3.5-6.6-3.2-6.7-2.4-6.6-1.8-7.4-1.3-6.7-0.5-7.4 0.1-7.4 0.8-7.4 1.5-6.6 2-6.7 2.7-5.9 3.1-5.9 3.7-5.9 4.6-5.2 5-4.5 5.2-4 5.8-3.4 6.2-2.6 6.2-2.1 6.9-1.1 6.2-0.6 6.9 0 4.1 0.5 0.9 72.7 40.5 0.1 0.7-0.3 0.3-72.5 40.3-0.5 0.8 0 0.6 0.2 6.9 0.8 6.2 1.6 6.9 2.2 6.2 3 6.2 3.3 5.6 4.1 5.5 4.4 4.8 5.3 4.8 5.2 4 5.9 3.6 5.9 3 6.7 2.6 6.7 2 6.6 1.3z"/>
<path fill="#ebe828" d="M245.2 577.4l7.5 0.1 7.4-0.6 7.4-1.4 6.7-1.9 6.6-2.5 6.7-3.3 5.9-3.7 5.9-4.6 5.2-4.8 4.8-5.6 3.8-5.5 3.5-6.2 2.6-6.2 1.9-6.2 1.3-6.9 0.6-6.9-0.1-2.1-72.5-42 0.2-0.7 0.6-0.5 71.8-41.6-0.4-6.9-0.9-6.2-1.6-6.2-2.3-6.1-2.7-5.6-3.4-5.5-4.2-5.5-4.5-4.9-5.2-4.6-5.1-3.8-6-3.6-6.6-3.3-6.7-2.4-6.6-1.8-7.4-1.3-6.7-0.5-7.4 0.1-6.6 0.6-7.4 1.5-6.7 2-6.7 2.6-5.9 3-5.9 3.8-5.9 4.6-5.2 4.9-4.4 5.2-3.8 5.5-3.5 6.2-2.6 6.2-2.1 6.9-1.2 6.2-0.6 6.9 0 1.3 0.5 1 71.9 41.8 0.1 0.7-0.3 0.3-71.7 41.5-0.5 0.9 0.4 6.2 1.1 6.9 1.6 6.2 2.1 5.6 2.7 5.5 3.3 5.5 4.1 5.3 4.4 4.9 5.2 4.6 5.2 3.9 5.9 3.6 5.9 3 6.6 2.6 6.7 1.9 6.7 1.2z"/>
<path fill="#faed22" d="M243.3 575.3l7.2 0.3 7.4-0.4 6.7-1 7.4-1.8 6.6-2.4 6.7-3.1 5.9-3.4 5.9-4.3 5.2-4.6 5-5.5 4.1-5.5 3.3-5.5 2.9-6.2 2.1-6.2 1.6-6.9 0.8-6.9-0.1-1.4-0.5-0.4-71.1-43 0.2-0.7 0.6-0.5 70.3-42.4 0.5-0.5 0.1-0.7-0.6-6.2-1.2-6.2-1.9-6.2-2.3-5.6-3-5.5-3.4-5.1-3.7-4.6-4.6-4.8-5-4.3-5.2-3.7-5.9-3.5-5.9-2.8-6-2.2-6.6-1.8-6.7-1.2-6.6-0.6-6.7 0-7.4 0.7-7.4 1.4-6.7 1.9-6.6 2.6-5.9 3-5.9 3.7-6 4.5-5.1 5-4.3 4.9-3.9 5.5-3.2 5.6-2.7 6.2-2 6.2-1.3 6.2-0.7 6.9 0.3 1 71.2 43.1 0.1 0.7-0.3 0.3-71 42.8-0.3 1 0.6 6.2 1.1 5.5 1.8 6.2 2.2 5.6 2.7 5.3 3.3 5 3.7 4.8 4.5 4.8 4.8 4.4 5.2 3.8 5.2 3.2 5.9 3 5.9 2.3 5.9 1.8 5.9 1.3z"/>
<path fill="#fbe11e" d="M240.8 573.3l6.7 0.5 7.4-0.1 7.4-0.9 6.7-1.4 6.7-2.1 6.6-2.8 6.7-3.6 5.9-4 5.2-4.3 5.1-5.3 4.5-5.6 3.5-5.6 3.1-6.2 2.3-6.2 1.6-6.2 1-6.9-0.1-0.7-0.3-0.5-70.4-44.3 0.1-0.7 0.7-0.5 69.6-43.7 0.4-0.6 0-0.7-0.9-6.2-1.3-5.5-1.9-5.5-2.4-5.6-3.2-5.5-3.3-4.8-3.7-4.4-4.4-4.4-4.5-3.8-5.2-3.6-5.1-3.1-5.9-2.8-6-2.2-5.9-1.7-5.9-1.1-6.7-0.8-7.4-0.1-6.6 0.5-6.7 1.1-6.6 1.7-6.7 2.4-5.9 2.8-5.9 3.5-5.9 4.3-5.2 4.6-4.5 4.8-4.3 5.7-3.3 5.6-3 6.2-2.1 6.2-1.4 6.2-0.8 6.2 0.1 0.4 0.5 0.3 70 44.1 0.1 0.7-0.3 0.3-69.7 43.8-0.6 0.4-0.1 0.3 0.6 5.5 1.2 5.5 1.7 5.5 2.3 5.6 2.6 4.8 3.1 4.8 3.7 4.8 4.2 4.5 4.4 4 5.2 3.9 5.2 3.3 5.1 2.6 5.2 2.2 5.9 2 6 1.4z"/>
<path fill="#fcd61a" d="M243.9 571.9l7.3 0.2 6.7-0.4 6.7-1 6.6-1.7 6.7-2.3 5.9-2.7 5.9-3.4 5.2-3.6 5.2-4.4 4.4-4.5 4.1-5.2 3.6-5.5 2.9-5.5 2.4-6.2 1.8-6.2 1-6.2-0.5-0.7-69.5-45.5 0.2-0.7 0.7-0.5 68.7-45 0.4-0.7-0.9-5.5-1.4-5.5-2-5.5-2.7-5.6-2.9-4.9-3.7-5.1-3.7-4.2-4.4-4.3-4.5-3.6-5.1-3.5-5.2-2.9-5.9-2.7-5.9-2.2-6-1.5-6.6-1.2-5.9-0.5-6.7 0-6.7 0.6-6.6 1.2-5.9 1.5-6.7 2.5-5.9 2.8-5.9 3.5-5.2 3.8-5.2 4.5-4.2 4.5-3.9 5.1-3.4 5.3-2.8 5.5-2.3 6.2-1.7 6.2-0.9 5.5 0.4 0.7 69.1 45.2 0.2 0.3 0.1 0.7-0.3 0.4-69 45.1-0.5 0.7 0.9 5.5 1.4 5.5 2 5.5 2.3 4.9 2.7 4.8 3.4 4.8 3.6 4.3 4.4 4.4 4.4 3.8 5.2 3.6 5.2 3.1 5.2 2.5 5.9 2.2 5.9 1.8 5.9 1.2z"/>
<path fill="#fcca15" d="M247.8 570.5l6.4-0.1 5.9-0.6 6.7-1.2 5.9-1.6 5.9-2.2 5.9-2.9 5.2-3 5.2-3.7 4.4-3.8 4.5-4.5 3.8-4.7 3.6-5.2 2.7-5.1 2.4-5.5 1.7-5.5 1.3-6.2-0.3-0.7-68.7-46.9 0.2-0.7 0.7-0.6 68-46.3 0.1-0.7-1.1-5.5-1.7-5.5-2.3-5.5-2.5-4.9-3.1-4.8-3.8-4.8-4-4.3-4.4-4-5.2-3.9-5.2-3.2-5.2-2.6-5.9-2.4-5.9-1.9-5.9-1.3-5.9-0.8-6-0.4-6.6 0.2-5.9 0.7-6 1.1-5.9 1.7-5.9 2.2-5.9 2.9-5.2 3.1-5.2 3.7-4.4 3.8-4.4 4.6-3.7 4.5-3.5 5.3-3 5.5-2.3 5.5-1.6 5.5-1.1 5.5 0.4 0.9 68 46.4 0.3 0.3 0.1 0.7-0.4 0.4-68 46.4-0.4 0.8 1 5.5 1.7 5.5 2.3 5.5 2.5 4.8 3.2 5 3.7 4.7 3.7 4 4.5 4.1 4.4 3.4 5.2 3.3 5.1 2.8 6 2.5 5.9 2 5.9 1.4 5.9 0.9z"/>
<path fill="#fdbe11" d="M240.5 568.4l6.3 0.6 6.7 0 6.6-0.7 6.7-1.2 6.6-1.9 6-2.3 5.9-3 5.1-3.1 5.2-3.9 5-4.5 4.4-4.8 3.7-4.8 3.3-5.5 2.7-5.5 2-5.6 1.5-6.2-0.1-0.7-0.3-0.2-67.5-48 0.2-0.8 67.3-47.8 0.3-0.4 0.1-0.7-1.3-5.5-1.7-4.8-2.2-4.8-2.6-4.8-2.8-4.2-3.2-4.1-3.9-4.2-4.1-3.8-4.5-3.4-4.4-2.9-5.2-2.8-5.2-2.3-5.1-1.9-6-1.6-5.1-1-6-0.6-6.6-0.2-5.9 0.4-6.7 1-5.9 1.4-5.9 2-6 2.6-5.1 2.7-5.2 3.4-5.2 4.1-4.4 4.3-3.7 4.2-3.7 5-3.1 5.3-2.6 5.5-1.9 5.5-1.4 5.5 0.1 0.9 67.3 47.7 0.3 0.4 0.1 0.7-0.4 0.4-67.3 47.8-0.1 0.7 1.1 4.9 1.6 4.8 2.1 4.8 2.2 4.2 2.7 4.3 3 4 3.5 4.1 3.9 3.7 3.7 3.1 4.4 3.2 4.5 2.7 5.1 2.6 5.2 2.1 5.2 1.7 5.2 1.3z"/>
<path fill="#fbaf15" d="M240.9 567.1l5.9 0.5 6.7-0.1 6.6-0.6 5.9-1.1 6-1.6 5.9-2.2 5.9-2.8 5.2-3 5.1-3.7 4.5-3.8 4.4-4.5 3.8-4.7 3.2-4.8 3-5.6 2.3-5.5 1.8-6.2 0-0.8-66.8-49.5 0.2-0.8 66.7-49.5-1-4.2-2-5.5-2.3-4.8-2.8-4.9-2.8-4.1-3.5-4.1-3.5-3.7-4.4-3.9-4.5-3.3-4.4-2.7-4.4-2.4-5.2-2.3-5.2-1.8-5.2-1.3-5.1-1-6-0.7-5.9-0.2-5.9 0.4-5.9 0.8-5.9 1.3-6 1.8-5.1 2.1-5.9 3-5.2 3.2-5.2 4-4.3 3.9-3.8 4.2-3.7 4.8-3.1 4.8-2.5 4.8-2.2 5.5-1.6 5.6 0 0.7 0.5 0.5 65.8 48.7 0.3 0.4 0.1 0.7-0.4 0.4-66.3 49.2 0.7 3.5 1.9 5.5 2.2 4.8 2.3 4.3 2.7 4 3.3 4.2 3.7 4 3.7 3.4 3.7 3 4.4 3.1 4.4 2.6 5.2 2.5 4.4 1.8 5.2 1.6 5.2 1.2z"/>
<path fill="#faa018" d="M240.7 565.7l6.1 0.5 5.9 0 5.9-0.5 6.7-1.1 5.9-1.5 5.2-1.9 5.9-2.6 5.2-2.9 5.2-3.6 4.4-3.6 4.4-4.3 4-4.7 3.4-4.8 2.7-4.9 2.5-5.5 1.9-5.5 0-0.7-0.4-0.5-65.4-50.5 0.3-0.8 65-50.2 0.5-0.7-0.1-0.7-0.8-2.8-2.2-5.5-2.4-4.8-2.6-4.2-3-4.1-3.4-3.9-3.7-3.7-3.7-3.1-4.4-3.3-4.4-2.7-4.5-2.3-5.1-2.3-5.2-1.7-5.2-1.4-5.2-0.9-5.2-0.5-5.9-0.2-5.9 0.3-5.9 0.8-5.9 1.3-6 1.9-5.1 2.1-5.2 2.6-5.2 3.2-4.4 3.3-4.5 3.9-4.3 4.5-3.3 4.2-3.2 4.8-2.6 4.8-2.3 5.5-1.4 4.9 0.5 0.7 64.7 49.9 0.3 0.4 0.1 0.7-0.4 0.5-64.6 49.8-0.6 0.7 0.9 3.5 1.9 4.8 2.3 4.8 2.5 4.1 2.9 4.1 2.9 3.6 3.7 3.9 3.7 3.3 3.7 2.8 4.5 2.9 4.4 2.5 4.4 2.1 5.2 2 4.5 1.3 4.4 1.1z"/>
<path fill="#f8911c" d="M248.8 565l5.4-0.1 5.2-0.5 5.9-1.1 5.2-1.3 4.4-1.5 5.2-2.2 5.2-2.7 4.4-2.8 4.4-3.2 3.7-3.3 4.1-4.1 3.4-4.1 2.9-4.2 2.8-4.8 2.2-4.8 1.8-4.8-0.6-0.7-64.2-51.7 0.3-0.9 64-51.5 0.4-0.7-2-5.5-2-4.2-2.3-4.1-2.6-3.8-3-3.8-3.1-3.4-3.5-3.3-3.7-3-4.5-3.2-4.4-2.6-4.4-2.2-4.5-1.8-4.4-1.5-5.2-1.4-4.4-0.8-5.2-0.6-5.2-0.2-5.9 0.2-5.2 0.5-5.2 1-5.2 1.4-5.1 1.8-5.2 2.2-4.4 2.4-4.5 2.8-4.4 3.3-4 3.6-4 4.1-3.1 3.9-3.1 4.4-2.7 4.8-2.1 4.9-1.4 4.1 0.3 0.7 63.7 51.3 0.4 0.4 0 0.7-0.4 0.5-63.6 51.2-0.4 0.7 0.1 0.7 1.8 4.8 1.9 4.1 2.4 4.2 2.8 4.1 2.7 3.5 3.5 3.7 3.3 3.2 4.1 3.2 3.7 2.6 4.4 2.7 4.5 2.2 4.4 1.9 4.4 1.5 5.2 1.4 4.5 0.8 5.1 0.6z"/>
<path fill="#f68220" d="M244.9 563.6l5.6 0.2 5.2-0.2 5.9-0.8 5.2-1 5.2-1.5 5.1-1.9 5.2-2.5 4.4-2.5 4.5-2.9 4.4-3.6 3.7-3.4 3.7-4.1 3.1-4.1 3.1-4.8 2.5-4.8 1.9-4.8-0.3-0.7-63.1-53.1 0.3-0.9 62.9-52.9 0.2-0.7-0.7-2.1-1.9-4.1-2.2-4.1-2.7-4.2-2.6-3.4-3.1-3.5-3.3-3.2-3.7-3.2-3.7-2.7-3.7-2.4-4.4-2.5-4.5-2-5.1-1.9-5.2-1.5-4.5-0.9-4.4-0.7-5.2-0.4-5.2 0-5.9 0.5-5.2 0.8-5.1 1.2-4.5 1.3-5.2 2.1-4.4 2.1-5.2 3-4.4 3.1-3.9 3.2-3.7 3.5-3.6 4.1-3.2 4.1-3 4.9-2.1 4.1-1.9 4.8 0.2 0.7 62.6 52.6 0.4 0.5 0.1 0.7-0.5 0.5-62.5 52.6-0.4 0.7 1.7 4.1 2 4.2 2.5 4.1 2.7 3.9 3 3.6 2.9 3.1 3.7 3.4 3.7 2.9 3.7 2.6 4.5 2.6 4.4 2.2 4.4 1.8 5.2 1.7 4.5 1.1 5.1 0.9z"/>
<path fill="#f47321" d="M242.4 562.2l5.9 0.4 5.2-0.1 5.9-0.5 5.2-0.9 5.1-1.3 5.2-1.8 5.2-2.2 4.4-2.3 4.5-2.8 4.4-3.2 4.4-3.9 3.7-3.9 3.5-4.4 2.8-4.1 2.7-4.8 1.8-4.2-0.2-0.6-62-54.5 0.2-0.7 0.2-0.3 61.7-54.2 0.1-0.7-0.3-0.7-1.9-4.1-2.3-4.1-2.3-3.5-2.7-3.4-3-3.5-3.4-3.3-3.7-3.1-3.7-2.7-3.7-2.3-4.5-2.4-4.4-2-4.4-1.6-4.5-1.3-4.4-1-4.5-0.7-4.4-0.4-5.2-0.2-5.2 0.3-5.1 0.6-5.2 1.1-5.2 1.4-4.4 1.6-5.2 2.4-4.4 2.4-4.5 2.8-4.4 3.5-3.7 3.3-3.5 3.7-3.4 4.1-2.8 4.2-2.3 4.1-2.2 4.8 0.1 0.7 61.4 54 0.4 0.5 0.1 0.7-0.5 0.5-61.3 54-0.3 0.6 1.9 4.2 2 3.7 2.5 3.9 2.6 3.4 2.9 3.5 3.1 3.1 3 2.6 3.7 2.9 3.7 2.5 3.7 2.2 4.4 2.2 3.7 1.5 4.4 1.6 4.5 1.2 4.4 0.9z"/>
<path fill="#f36422" d="M240.3 560.9l5.8 0.5 5.1 0.1 5.2-0.3 5.2-0.7 5.2-1 5.2-1.5 5.1-2 5.2-2.5 4.4-2.5 4.5-3.1 4.4-3.6 3.7-3.6 3.6-4 3.1-4.2 2.9-4.7 2-4.2 0-0.7-60.8-55.8 0.1-0.7 0.3-0.3 60.5-55.6-0.1-0.6-1.7-3.5-2.4-4.1-2.4-3.5-2.7-3.4-3.1-3.3-3-2.8-2.9-2.5-3.7-2.8-3.7-2.3-4.5-2.4-3.7-1.7-4.4-1.7-4.4-1.4-3.7-0.9-4.5-0.8-4.4-0.5-5.2-0.3-5.2 0.2-5.2 0.5-5.1 1-5.2 1.3-4.5 1.5-5.1 2.2-4.5 2.3-4.4 2.7-3.7 2.7-3.7 3.1-3.9 3.8-3 3.5-3.1 4.1-2.6 4.2-2.4 4.8 0 0.6 0.2 0.3 60.3 55.6 0.1 0.7-0.5 0.6-59.9 55.1-0.3 0.8 1.7 3.5 2 3.4 2.3 3.5 2.4 3.1 2.7 3.1 2.8 2.7 3.1 2.8 3.3 2.6 3.7 2.5 3.7 2.2 3.7 1.9 3.7 1.6 3.7 1.4 4.4 1.3 4.4 1z"/>
<path fill="#f25522" d="M243.4 560.2l4.9 0.3 5.2-0.1 5.1-0.5 5.2-0.8 5.2-1.3 4.4-1.4 5.2-2.2 4.5-2.2 4.4-2.6 4.4-3.2 3.7-3.1 3.7-3.6 3-3.5 3.1-4.1 3-4.8 1-2.1 0.2-0.7-59.5-57.2 0.1-0.7 0.3-0.3 59.2-56.9-0.3-0.7-1.8-3.5-2.2-3.4-2.6-3.5-2.7-3.2-3-3-3-2.7-3.7-2.9-3.7-2.6-3.6-2.1-3.7-1.9-4.5-1.9-3.7-1.4-4.4-1.2-4.5-1-4.4-0.6-4.4-0.4-5.2-0.1-4.5 0.3-4.4 0.5-5.2 1-5.2 1.4-4.4 1.6-4.4 1.9-4.5 2.3-4.4 2.8-3.7 2.7-3.7 3.1-3.3 3.3-3.4 3.8-2.9 4-3.2 5.3-0.7 1.4-0.1 0.7 58.7 56.6 0.4 0.6 0.1 0.7-58.9 56.9-0.3 0.3 0 0.7 1.9 3.4 2.2 3.5 2.5 3.4 2.6 3 2.9 3.1 3 2.7 2.9 2.4 3.7 2.7 3.7 2.2 3.7 2 7.4 3.1 3.7 1.2 4.5 1.1 4.4 0.9z"/>
<path fill="#f04623" d="M240.3 558.8l5 0.5 5.2 0.2 5.2-0.3 5.2-0.6 4.4-0.9 5.2-1.4 5.2-1.8 4.4-2 4.4-2.4 4.5-2.9 3.7-2.7 3.7-3.3 3.7-3.8 3.4-4.1 2.8-4.2 1.9-3.4-58.1-58.6 0.1-0.7 0.3-0.4 57.7-58.2-1.5-2.8-2.3-3.4-2.6-3.5-2.5-2.8-2.9-3-3-2.6-3-2.3-3.7-2.6-3.6-2.2-3.7-1.9-7.4-3-4.5-1.3-3.7-0.9-3.7-0.6-4.4-0.6-4.5-0.2-5.1 0.1-4.5 0.4-5.2 0.8-4.4 1.1-5.2 1.6-4.4 1.8-4.5 2.1-4.4 2.6-3.7 2.5-3.7 2.9-3.7 3.4-3.2 3.4-3.3 4.1-3.1 4.7-0.9 1.5-0.1 0.7 0.5 0.7 57.2 57.9 0 0.7-0.5 0.6-57.2 58 0.1 0.7 3 4.8 2.3 3.2 2.5 3 2.7 2.8 3 2.8 5.9 4.5 6.6 4.1 3.7 1.8 3.7 1.5 7.4 2.4z"/>
<path fill="#ef3c23" d="M242.6 558.1l4.9 0.3 4.5 0.1 4.4-0.3 5.2-0.7 4.4-0.9 4.5-1.3 4.4-1.6 4.5-1.9 4.4-2.3 3.7-2.3 3.7-2.7 3.7-3.1 3.4-3.3 3.2-3.6 3-4 2.2-3.4-55.8-59.3-0.9-0.7 0.1-0.7 0.4-0.4 56.1-59.6-1.7-2.7-2.5-3.5-2.3-2.8-3-3.2-3-2.7-2.9-2.5-3-2.1-3.7-2.4-3.7-2-3.7-1.8-7.4-2.7-7.4-1.8-3.7-0.6-4.4-0.4-5.2-0.1-4.4 0.2-4.5 0.5-4.4 0.8-4.4 1.1-4.5 1.4-3.7 1.4-4.4 2.1-4.4 2.6-3.7 2.4-3.7 2.9-3 2.6-3 3-3 3.4-3 4.2-1.3 2-0.3 0.7 0.4 0.7 55.3 58.7 0.5 0.6 0.1 0.7-56.1 59.5-0.2 0.5 0.2 0.7 4.4 6.2 4.5 5.1 3 2.7 2.9 2.5 6 4.1 6.6 3.6 7.4 3 7.4 2z"/>
<path fill="#ee3124" d="M245.4 557.4l4.4 0.2 4.4-0.2 4.4-0.4 4.5-0.7 4.4-1.1 3.7-1.1 3.7-1.3 4.5-2 3.7-1.9 3.6-2.3 3.7-2.6 3.7-3 3.1-2.9 3.2-3.4 3.2-4.2 1-1.4 0.3-0.7-0.4-0.6-53.7-60-0.8-0.7 0.1-0.7 54.5-60.7 0.2-0.7-1-1.8-2.9-3.7-5.3-5.6-5.9-4.9-6.6-4.3-3.7-2-3.7-1.6-7.4-2.6-7.4-1.6-3.7-0.5-4.5-0.3-4.4-0.1-4.5 0.3-4.4 0.5-3.7 0.7-4.4 1.1-3.7 1.2-3.7 1.4-4.5 2-3.7 2.1-3.7 2.3-3.7 2.7-2.9 2.5-3 2.8-2.9 3.2-2.8 3.5-1.8 2.7 0.3 0.7 53.8 60.1 0.5 0.6 0.1 0.7-54.3 60.7-0.4 0.6 1.3 2.1 2.5 3.3 2.6 2.9 2.7 2.8 5.8 4.9 6.7 4.3 6.6 3.3 7.4 2.7 7.4 1.8z"/>
<path fill="#ee2624" d="M240.7 556l4.6 0.5 4.5 0.2 4.4-0.2 4.4-0.4 4.5-0.7 4.4-1.1 4.5-1.3 3.7-1.4 4.4-2.1 3.7-2 3.7-2.3 3.7-2.7 3.5-3 3.1-3.1 3.4-3.8 2-2.8-0.3-0.7-52.1-61.3-0.8-0.7 0.1-0.7 0.7-0.7 52.1-61.4 0.3-0.6-4.5-5.6-4.6-4.5-5.9-4.7-5.9-3.7-5.9-2.9-6.7-2.4-6.6-1.7-7.4-1.1-4.5-0.2-4.4 0.1-3.7 0.2-4.4 0.6-3.7 0.8-4.5 1.1-4.4 1.5-3.7 1.6-3.7 1.8-3.7 2.1-3.7 2.4-3.7 2.8-3 2.6-2.9 3-3 3.4-2 2.8 0.2 0.6 51.4 60.5 1.2 1.6 0.1 0.7-52.6 62-0.4 0.7 3.8 4.9 4.7 4.8 5.5 4.4 5.1 3.4 5.9 3.1 6 2.5 6.6 1.9z"/>
<path fill="#ed1c24" d="M242.1 555.3l4 0.4 4.4 0.1 4.4-0.2 3.7-0.4 4.5-0.7 3.7-0.9 4.4-1.3 3.7-1.3 3.7-1.7 3.7-1.9 3.7-2.2 3.7-2.6 3.7-3 3-2.7 2.9-3.2 2-2.5-0.2-0.7-50.4-62.7-0.8-0.7 0.1-0.7 0.8-0.7 50.4-62.7 0-0.7-1.6-2.1-2.5-2.7-5.2-4.8-5.2-3.9-5.9-3.5-5.9-2.7-6.6-2.3-6.7-1.5-6.7-0.9-3.7-0.1-4.4 0-4.4 0.4-3.7 0.5-4.5 0.9-3.7 1-7.4 2.8-6.6 3.3-3.7 2.3-3 2.2-2.9 2.4-3 2.7-3 3.1-2.4 2.9 0.1 0.7 49.7 61.7 1.3 1.7 0 0.7-50.9 63.4-0.2 0.7 3.9 4.6 4.5 4.2 5.1 4 5.2 3.3 5.9 2.9 5.9 2.3 6.7 1.8z"/>
<path fill="#e21d24" d="M243.4 554.6l7.8 0.4 3.7-0.2 4.5-0.5 7.4-1.5 7.4-2.4 3.7-1.6 3.7-1.9 6.6-4.1 5.9-4.8 5.3-5.4-0.1-0.7-48.6-64.1-0.8-0.7 0.1-0.7 0.7-0.7 48.7-64.1-0.1-0.7-4.4-4.6-5.2-4.4-5.2-3.6-5.9-3.2-5.9-2.5-6.7-2-6.6-1.3-5.9-0.6-7.4 0-4.5 0.4-3.7 0.6-7.4 1.8-6.6 2.4-6.7 3.3-3.7 2.3-2.9 2-3.7 3-3 2.8-2.8 2.9-0.5 0.7-0.1 0.7 48.5 64 0.6 0.8 0 0.7-49.1 64.8 0 0.7 3.8 4.1 4.8 4.2 5.2 3.7 5.1 3 5.9 2.7 6 2 5.9 1.4z"/>
<path fill="#d61e25" d="M244.6 554l7.4 0.1 7.4-0.6 7.4-1.5 7.4-2.4 6.6-3.1 6.7-4.1 3.7-2.8 2.9-2.5 3.2-3.1 0-0.7-46.7-65.5-0.7-0.7 0.1-0.7 0.7-0.7 46.7-65.5-0.2-0.7-2.3-2.3-5.9-5-5.2-3.4-5.9-3.2-5.9-2.4-6.7-2-6.7-1.2-5.9-0.5-7.4 0.1-6.6 0.8-7.4 1.7-6.7 2.3-6.7 3.2-5.9 3.8-5.9 4.7-2.8 2.7-0.6 0.7-0.3 0.7 46.6 65.3 0.6 0.9 0.1 0.7-47.2 66.2 0.1 0.7 4.2 4.1 4.5 3.6 5.2 3.4 5.1 2.7 5.2 2.2 5.9 1.9 6 1.3z"/>
<path fill="#cb1f26" d="M245.8 553.3l6.9 0 6.7-0.6 6.6-1.3 6.7-2.1 6.7-2.9 5.9-3.3 3.7-2.6 2.9-2.4 3.1-2.8 0.2-0.6-44.6-66.9-0.7-0.7 0-0.7 0.7-0.7 44.7-66.9-0.4-0.7-3-2.7-5.2-3.9-5.1-3.2-5.9-2.9-5.2-1.9-5.9-1.7-6-1.1-5.9-0.5-6.6 0.1-6.7 0.7-6.7 1.4-6.6 2.2-5.9 2.7-5.9 3.4-6 4.4-3.4 3-0.3 0.7 44.4 66.6 0.6 1 0.1 0.7-45.1 67.6 0.3 0.6 2 1.9 5.9 4.7 5.1 3.2 5.2 2.6 5.2 2.1 5.9 1.7 5.9 1.2z"/>
<path fill="#c02026" d="M246.8 552.6l6.7 0 5.9-0.6 5.9-1.2 6.7-2 5.9-2.4 5.9-3.2 5.9-4.1 2.8-2.4 0.5-0.7-42.5-68.2-0.7-0.7 0.1-0.7 0.7-0.7 42.4-68.3-0.6-0.6-2.7-2.3-5.2-3.6-5.1-3-5.2-2.3-5.2-1.8-5.9-1.6-5.9-0.9-5.2-0.4-6.7 0.2-5.9 0.7-5.9 1.2-5.9 1.8-6 2.5-5.1 2.8-5.9 4.1-3.2 2.6-0.6 0.6 42.2 67.9 0.7 1.1 0 0.7-42.9 68.9 0.5 0.7 2.5 2.1 5.2 3.7 4.4 2.6 5.2 2.5 5.2 1.9 5.9 1.6 5.9 1z"/>
<path fill="#b01d22" d="M247.5 551.9l6-0.1 5.9-0.6 5.9-1.1 5.2-1.5 5.9-2.3 5.2-2.6 5.1-3.3 3.2-2.3 0.6-0.7-39.2-68.2-0.8-1.4-0.7-0.7 0.1-0.7 0.6-0.7 39.8-68.9 0.2-0.7-3.8-3-4.4-2.8-5.2-2.7-5.1-2.1-5.2-1.6-5.2-1.2-5.2-0.7-5.2-0.4-5.9 0.2-5.9 0.7-5.9 1.2-5.2 1.6-5.2 2.1-5.2 2.6-5.1 3.3-3.5 2.8 0.2 0.7 39.8 68.9 0.4 0.7 0 0.7-40.5 70.3 3.6 2.8 4.4 2.9 4.4 2.4 5.2 2.2 5.2 1.7 5.2 1.3 5.2 0.8z"/>
<path fill="#a01a1e" d="M247.8 551.2l5.7-0.1 5.1-0.5 5.2-0.9 5.2-1.3 5.2-1.9 5.2-2.4 5.1-2.9 3.3-2.4-0.1-0.7-33.6-63.4-3.3-6.2-1-1.4 0.1-0.7 0.6-0.8 0.7-1.3 36.5-68.9 0-0.7-3.2-2.3-5.1-3-4.5-2-4.4-1.7-5.2-1.5-4.4-0.9-4.5-0.6-5.2-0.4-5.1 0.1-5.2 0.6-5.2 0.9-5.2 1.4-5.2 1.9-4.4 2-4.4 2.5-4.5 3 0.1 0.7 37.3 70.3 0.3 0.7 0 0.7-37.6 71-0.2 0.7 3.1 2.2 4.4 2.6 4.5 2.2 4.4 1.7 4.4 1.4 5.2 1.2 5.2 0.8z"/>
<path fill="#8f161a" d="M247.4 550.5l5.3 0 5.2-0.4 5.2-0.9 5.2-1.3 5.1-1.8 5.2-2.3 5.2-2.9 1-0.7 0.1-0.7-33.5-69.7-0.9-1.7-0.7-1-34.9 72.4 0 0.7 5.3 3.1 4.4 2.1 5.2 1.9 4.4 1.3 4.5 1 4.4 0.6zM249.7 466.4l0.1 0.6 0-0.6 0.7-0.9 1.6-3.2 32.8-68.3-0.1-0.7-5.4-3.2-4.5-2-5.2-2-5.1-1.4-4.5-0.9-4.4-0.5-5.2-0.3-5.2 0.2-5.2 0.5-5.1 1.1-4.5 1.2-5.2 1.9-4.4 2-5.8 3.4-0.2 0.7z"/>
<path fill="#7f1316" d="M246.6 549.8l4.6 0.1 5.2-0.3 4.5-0.6 4.4-1 5.2-1.5 5.2-2 5.7-3 0.4-0.6-30.6-71.1-0.6-1.3-0.8-1.3-31.8 73.7 0.4 0.6 4 2.2 3.7 1.6 4.4 1.6 3.7 1.1 4.5 0.9 3.7 0.6zM249.7 466.4l0.1 0.3 1.5-3.1 30.5-71-0.5-0.7-4.9-2.5-4.4-1.8-4.5-1.5-4.4-1.1-4.5-0.7-3.7-0.4-4.4-0.2-4.4 0.1-4.5 0.4-4.4 0.7-4.5 1.1-4.4 1.4-4.4 1.8-5.4 2.7-0.5 0.7z"/>
<ellipse cx="249.9" cy="466.8" rx="88.8" ry="82.7" fill="#31419b"/>
</g>
<g id="hm-c" shape-rendering="crispEdges">
<rect x="555.6" y="303.1" width="355.2" height="331" fill="#2c2f86"/>
<path fill="#2d338d" d="M555.6 634.1l355.2 0 0-331-355.2 0zM648.1 473.8l-0.7-0.4-0.4-3.4 0.4-3.1 0.7-0.5 82.2 3.6-9.6 0.7zM810.2 473.4l-63.9-2.7-9.6-0.7 82.3-3.6 0.8 1.4 0.1 2.2-0.1 2.5-0.8 1.3z"/>
<path fill="#2f3a95" d="M555.6 634.1l355.2 0 0-331-355.2 0zM648.1 478.8l-0.8-1.2-1-2.8-0.6-2.8-0.1-2 0.2-2.1 0.5-2.7 1.1-2.8 0.7-0.9 83.9 8.5-4 0.7zM813.9 478.3l-74.9-7.6-4-0.7 84-8.5 1.4 3 0.8 3.4 0.2 2.1-0.2 2-0.7 3.5-0.7 2-0.8 1.3z"/>
<path fill="#31419b" d="M555.6 634.1l355.2 0 0-331-355.2 0zM648.8 481.8l-0.7-0.2-0.5-0.6-1.2-2.1-1-2-1-3.5-0.3-3.4 0.4-3.5 1-3.4 1-2.1 1.3-2.1 0.3-0.3 0.7-0.1 83.7 11.5-3 0.7zM818.3 481.8l-80.8-11.1-2.9-0.7 83.7-11.6 0.7 0.4 0.6 0.8 1.9 3.5 1 3.4 0.4 3.5-0.3 3.4-1 3.5-1.8 3.4-0.8 1.1z"/>
<path fill="#34489f" d="M555.6 634.1l355.2 0 0-331-355.2 0zM648.8 484.3l-0.7-0.6-1.7-2-1.4-2.1-1-2-1.1-3.5-0.4-4.1 0.5-4.2 1.1-3.4 2-3.5 1.7-2 1-0.9 83.7 14-2.3 0.7zM815.3 483.8l-78.5-13.1-2.3-0.7 83.8-14 2.6 2.9 1.3 2.1 1 2.1 0.6 2.1 0.5 2 0.2 2.1-0.1 2.7-0.5 2.8-0.6 2.1-1.3 2.7-1.4 2.1-2.3 2.5z"/>
<path fill="#364ca1" d="M555.6 634.1l355.2 0 0-331-355.2 0zM648.8 486.2l-2-1.7-1.3-1.4-1.5-2.1-1.2-2.1-0.9-2-0.6-2.1-0.4-2.1-0.1-2.7 0.2-2.8 0.4-2 0.9-2.8 1-2.1 1.4-2 1.7-2.1 2.4-2.1 0.8-0.2 83 16.1-2 0.7-7.1 1.3-73.9 14.3zM815.3 485.9l-78.9-15.2-2-0.7 83.2-16.1 0.7 0.3 0.7 0.6 2.2 2.1 1.6 2 1.2 2.1 1.2 2.8 0.6 2 0.4 2.8 0 2.8-0.4 2.7-0.8 2.8-1.2 2.7-1.3 2.1-2 2.4-2.2 2-0.7 0.3z"/>
<path fill="#374fa2" d="M555.6 634.1l355.2 0 0-331-355.2 0zM649.6 488.3l-2.2-1.4-2.3-1.9-1.7-1.9-1.8-2.8-1.1-2-0.9-2.8-0.6-2.8-0.1-2.7 0.2-2.8 0.6-2.7 1-2.8 1-2.1 1.4-2 1.8-2.1 2.4-2.1 2.3-1.5 83 18.1-1.7 0.7zM816.1 488l-79.9-17.3-1.8-0.7 82.4-18 0.8 0 2.2 1.5 2.3 2 1.8 2.1 1.4 2 1.3 2.8 0.9 2.8 0.5 2.7 0.1 2.8-0.3 2.7-0.6 2.8-1.1 2.7-1.5 2.8-2.3 2.8-2.5 2.2-2.2 1.5z"/>
<path fill="#3953a4" d="M555.6 634.1l355.2 0 0-331-355.2 0zM650.3 490l-0.7-0.2-1.5-0.7-2.8-1.9-2.3-2-2.3-2.8-1.7-2.8-1.1-2.7-0.7-2.8-0.4-3.4 0.2-3.5 0.6-2.7 0.9-2.8 1.5-2.8 1.9-2.7 2-2.1 2.7-2.1 3-1.6 0.7-0.2 82.3 19.8-1.6 0.7zM816.8 490l-80.6-19.3-1.9-0.7 82.5-19.8 2.5 1.2 2.9 2 2.2 2.1 2.2 2.8 1.5 2.7 1.1 2.8 0.7 2.7 0.3 3.5-0.3 3.4-0.6 2.8-1 2.7-1.5 2.8-2.1 2.8-2.1 2-2.9 2.1z"/>
<path fill="#3a56a6" d="M555.6 634.1l355.2 0 0-331-355.2 0zM649.6 491.4l-3.1-1.4-3.1-2.1-2.4-2.1-2.3-2.7-1.7-2.8-1.4-3.4-0.8-3.5-0.2-3.4 0.3-3.5 0.8-3.4 1.5-3.5 1.7-2.7 2.4-2.8 2.4-2.1 3.4-2 3.2-1.4 82.4 21.4-1.4 0.7-2.6 0.7-77.6 20.2-0.8 0zM815.3 491.4l-76.9-20-2.7-0.7-1.5-0.7 81.9-21.4 0.7 0.1 3.1 1.3 3.4 2 2.4 2.1 2.4 2.8 1.7 2.7 1.5 3.5 0.8 3.4 0.3 4.2-0.5 4.1-1 3.5-1.7 3.4-2 2.8-2.7 2.7-3.2 2.3-2.2 1.2-2.3 0.9z"/>
<path fill="#3b59a7" d="M555.6 634.1l355.2 0 0-331-355.2 0zM649.6 492.9l-3.7-1.4-3-1.7-3.3-2.6-2.5-2.7-2.3-3.5-1.5-3.4-0.9-3.5-0.3-4.1 0.4-4.2 0.9-3.4 1.6-3.5 2.3-3.4 2.6-2.8 3-2.3 3.3-1.8 3.9-1.4 1-0.2 0.7 0.2 80.9 22.8-1.2 0.7-2.7 0.7-77 21.6-0.7 0.2zM814.6 492.8l-79.1-22.1-1.4-0.7 81.2-22.8 0.8-0.2 1.5 0.4 3.7 1.4 3.2 1.9 3.3 2.7 2.5 2.8 2.1 3.4 1.4 3.5 0.9 4.1 0.2 4.2-0.6 4.1-1.1 3.4-1.8 3.5-2.7 3.6-2.1 1.9-1.6 1.3-3.7 2.2-2.3 0.9-2.9 0.9z"/>
<path fill="#3c5daa" d="M555.6 634.1l355.2 0 0-331-355.2 0zM648.8 494.2l-3.7-1.2-3.7-1.8-3.5-2.6-2.8-2.8-2.4-3.4-1.7-3.5-1.2-4.1-0.5-4.1 0.3-4.2 1-4.1 1.5-3.5 2.2-3.4 2.4-2.8 3.3-2.7 3.6-2.1 3.8-1.4 2.9-0.8 1.5-0.1 81 24.4-1.2 0.7-79.8 23.9-0.7 0zM813.9 494.2l-78.5-23.5-1.4-0.7 81.3-24.4 1.9 0.2 2.6 0.7 4.4 1.8 3.7 2.4 3.1 2.7 2.7 3.5 2.2 4.1 1.2 4.2 0.5 4.1-0.2 4.1-0.9 4.2-1.8 4.1-2.3 3.4-3.3 3.5-3.9 2.8-3.9 1.8-2.9 0.9-2.3 0.5-0.8 0z"/>
<path fill="#3d61ac" d="M555.6 634.1l355.2 0 0-331-355.2 0zM648.1 495.6l-4.4-1.2-3.7-1.7-3.7-2.4-3.4-3.1-2.6-3.4-2.2-4.2-1.3-4.1-0.5-4.1 0.1-4.2 0.8-4.1 1.7-4.2 2-3.4 2.9-3.5 3.3-2.7 3.6-2.2 4.4-1.7 4.5-1 2.2-0.2 0.7 0.1 80.3 25.7-1.1 0.7-79.2 25.2-0.7 0.2zM813.1 495.5l-77.7-24.8-1.5-0.7 80.7-25.7 0.7-0.1 2.3 0.2 4.4 1 4.5 1.8 2.4 1.4 1.9 1.4 3.6 3.4 2.6 3.5 2 4.1 0.9 2.8 0.5 2 0.3 4.9-0.4 4.1-0.7 2.8-0.7 2-2.2 4.2-2.9 3.7-3.5 3.2-2.1 1.3-2.5 1.4-4.4 1.7-3 0.6-3 0.4z"/>
<path fill="#3e66b0" d="M555.6 634.1l355.2 0 0-331-355.2 0zM645.9 496.9l-4.5-1.2-4.4-2-3.7-2.4-3.7-3.4-2.6-3.4-2.2-4.2-1.4-4.1-0.6-4.2 0.1-4.8 0.8-4.1 1.5-4.2 2.4-4.1 2.9-3.4 3.5-3 3.7-2.3 4.5-1.8 5.2-1.2 5.1-0.3 80.4 27.2-1.2 0.7-79.2 26.7-2.9 0zM813.1 497l-77.7-26.2-1.6-0.8 80.8-27.2 5.2 0.3 2.9 0.6 2.7 0.8 4.6 2 4.2 2.8 3.5 3.4 3 4.2 1.1 2 1.1 2.8 1.1 4.8 0.2 4.9-0.7 4.8-0.5 2.1-1.1 2.7-2.4 4.2-1.5 2-1.9 2.1-3.7 3-4.6 2.5-5.1 1.7-2.9 0.6-3 0.3-2.2 0z"/>
<path fill="#3f6cb4" d="M555.6 634.1l355.2 0 0-331-355.2 0zM642.9 498.3l-4.4-1.2-4.5-2-3.7-2.4-3.9-3.4-1.8-2.1-1.4-2-2.2-4.2-1.5-4.1-0.7-4.9 0.1-4.8 0.9-4.8 1.6-4.1 2.4-4.2 2.9-3.4 4-3.5 4.1-2.5 4.4-1.8 3.7-0.9 3.7-0.6 3.7-0.1 3 0.3 79.6 28.4-1.2 0.8-78.4 27.9-2.2 0.2-3 0zM813.1 498.4l-77.7-27.6-1.7-0.8 80.2-28.5 3.7-0.2 3.7 0.2 3.7 0.7 3.7 1 2.9 1.3 2.2 1.1 4.3 3 2.2 2.1 1.8 2 2.8 4.2 1 2 1.1 2.8 0.7 2.8 0.4 2.7 0.2 2.8-0.1 2.7-0.9 4.9-1.9 4.8-1.6 2.8-1.4 2-3.4 3.6-2.3 1.9-2.1 1.5-2.4 1.3-2.8 1.2-5.2 1.5-2.9 0.5-3 0.2-3.7-0.1z"/>
<path fill="#4074ba" d="M555.6 634.1l355.2 0 0-331-355.2 0zM642.9 500.4l-5.2-1-5.3-1.8-2.7-1.4-2.3-1.4-4.2-3.4-2-2.1-1.6-2.1-2.5-4.1-1.9-4.8-1-4.9-0.2-2.7 0.1-2.8 0.8-4.8 1.6-4.8 2.3-4.2 3.3-4.1 3.8-3.5 4.4-2.8 5.2-2.2 4.5-1.2 4.4-0.6 4.4 0 4.5 0.5 79.7 29.8-1.3 0.8-77.7 29-2.2 0.5-3 0.2zM816.1 500.4l-3-0.5-77.7-29.1-1.8-0.8 79.5-29.7 4.5-0.6 5.1 0 5.2 0.8 4.5 1.3 2.9 1.2 2.2 1.2 4.5 3 2.3 2.1 1.8 2.1 1.6 2 1.7 2.8 2.1 4.8 0.8 2.8 0.5 2.7 0.2 2.8-0.1 2.7-0.3 2.8-0.6 2.8-0.9 2.7-1.2 2.8-1.5 2.7-1.5 2.1-1.7 2.1-2.1 2-2.5 2.1-2.1 1.4-2.5 1.4-2.9 1.3-5.2 1.5-2.9 0.6-3 0.2z"/>
<path fill="#417dc0" d="M555.6 634.1l355.2 0 0-331-355.2 0zM640.7 502.4l-5.9-0.9-5.2-1.6-5.2-2.5-4.6-3.3-2.3-2.1-1.9-2-1.5-2.1-1.8-2.7-2.2-4.9-0.8-2.7-0.6-2.8-0.3-2.8 0-2.7 0.2-2.8 0.4-2.7 0.8-2.8 1-2.7 2.5-4.9 3.2-4.1 2-2.1 2.5-2 2.7-1.9 2.2-1.3 5.2-2.2 5.2-1.4 5.9-0.7 5.9 0.2 5.9 1.1 79 31-1.3 0.8-77.7 30.5-3.7 0.7-2.9 0.4-3.7 0.1zM820.5 502.4l-4.4-0.5-3.7-0.9-77-30.1-1.8-0.9 1.1-0.3 78.4-30.8 5.9-1 6-0.2 5.9 0.7 2.9 0.7 3 1 5.2 2.4 2.9 1.9 2.3 1.7 2.2 2 2.3 2.6 1.5 2 1.7 2.8 1.3 2.8 1 2.7 0.8 2.8 0.4 2.7 0.2 2.8 0 2.7-0.3 2.8-0.6 2.8-0.8 2.7-1.2 2.8-1.4 2.7-1.4 2.1-2.1 2.8-2 2-2.4 2.1-2.2 1.6-2.2 1.4-3 1.4-2.9 1.2-3 0.9-5.9 1-3 0.2z"/>
<path fill="#4289c9" d="M555.6 634.1l355.2 0 0-331-355.2 0zM634 504.5l-5.9-1.2-2.9-1-3.2-1.3-2.8-1.4-2.9-1.9-4.4-3.6-3.7-4.1-3-4.8-1.3-2.8-1-2.8-0.7-2.7-0.5-2.8-0.2-3.4 0-2.8 0.3-2.7 0.6-2.8 0.8-2.8 1.1-2.7 2.6-4.9 2.1-2.7 1.8-2.1 4-3.6 2.7-1.9 2.5-1.5 2.9-1.4 3-1.1 3-0.9 3.7-0.8 3.7-0.5 3.7-0.1 6.6 0.5 3.7 0.7 3.7 1 79.1 32.4-1.4 0.9-76.9 31.5-5.2 1.4-5.2 0.8-5.2 0.2zM822 504.5l-5.2-0.8-4.4-1.2-78.9-32.5 1.2-0.3 76.9-31.6 2.3-0.8 3.7-0.9 3.7-0.6 3.7-0.3 3.7-0.1 3.7 0.3 3.7 0.6 3.7 0.9 2.9 1.1 3.2 1.3 2.7 1.6 2.9 1.9 2.6 2.1 2.1 2 2.4 2.8 3.1 4.8 1.3 2.8 1.2 3.4 0.8 3.5 0.4 2.7 0.1 3.5-0.1 2.7-0.6 3.5-0.7 2.7-1 2.8-1.3 2.8-1.6 2.7-1.9 2.8-2.5 2.7-2.2 2.1-2.7 2.1-2.3 1.5-2.9 1.6-3 1.3-3.2 1.1-3.4 0.8-3.1 0.6-3.6 0.3-3.7 0z"/>
<path fill="#4498d4" d="M555.6 634.1l355.2 0 0-331-355.2 0zM628.1 507.2l-3.7-0.6-2.9-0.7-6-2.2-2.9-1.4-3-1.8-2.9-2.1-2.3-1.9-4.1-4.5-1.9-2.7-1.7-2.8-1.3-2.7-1-2.8-0.8-2.7-0.7-3.5-0.2-2.8 0-3.4 0.3-3.4 0.5-2.8 1.8-5.5 1.2-2.8 1.6-2.7 1.9-2.8 2.2-2.6 2.2-2.2 2.5-2.1 2.9-2.1 2.8-1.6 2.9-1.5 3-1.2 3.7-1.1 3.7-0.9 3.7-0.5 4.4-0.2 3.7 0.1 4.5 0.4 3.7 0.7 4.4 1.1 5.2 1.8 77.6 33.3-1.4 0.9-78.4 33.4-5.9 1.8-6.7 1.2-6.7 0.4zM825.7 507.2l-3.7-0.6-3.7-0.8-6.7-2.2-78.2-33.6 1.3-0.4 76.9-32.9 5.2-1.8 4.5-1.2 4.4-0.7 4.4-0.4 3.7 0 4.5 0.3 3.7 0.6 4.4 1.1 3.7 1.3 3 1.4 3 1.6 3.1 2.1 2.8 2.2 2.6 2.6 2.4 2.8 1.9 2.8 1.6 2.7 1.2 2.8 1.3 3.4 0.8 3.5 0.4 3.4 0.2 3.5-0.3 3.4-0.5 3.5-1 3.4-1.3 3.5-1.4 2.7-2.2 3.5-2.2 2.7-2.7 2.8-2.3 2.1-2.9 2-3 1.9-3.3 1.6-3.5 1.3-3.6 1.1-3.7 0.8-3.7 0.5-3.7 0.2-3.7-0.1z"/>
<path fill="#44a7df" d="M555.6 634.1l355.2 0 0-331-355.2 0zM619.2 510.7l-3.7-0.7-3.7-0.9-3.3-1.2-3.3-1.4-3.7-1.9-3-1.9-2.9-2.2-2.6-2.2-2-2.1-2.4-2.8-1.9-2.7-2-3.5-1.2-2.7-1.3-3.5-0.8-3.4-0.5-2.8-0.3-3.4 0.1-3.5 0.4-3.4 0.5-2.8 1-3.4 1-2.8 1.7-3.5 1.6-2.7 2-2.8 2.3-2.7 2.8-2.8 2.5-2.1 2.9-2 2.8-1.7 3.6-1.8 3.4-1.3 4.1-1.3 4.5-1 4.4-0.6 4.4-0.3 4.5 0.1 5.2 0.5 4.4 0.8 5.2 1.3 4.4 1.6 3.7 1.5 79.1 35.3-1.4 0.9-77.7 34.7-5.2 2-7.4 2.2-7.4 1.2-7.4 0.3-3.7-0.2zM830.9 510.7l-3.7-0.6-4.5-1-4.4-1.4-3.7-1.4-79.2-35.3-1.5-0.9-0.6-0.1 1.4-0.4 78.4-35 3.7-1.5 4.5-1.5 5.1-1.3 5.2-0.9 5.2-0.4 4.4-0.1 4.8 0.4 4.9 0.8 4.4 1.1 4.4 1.6 3.7 1.7 3 1.7 3.2 2.1 3.4 2.7 2.8 2.8 2.3 2.7 2.4 3.5 2 3.4 1.4 3.5 1.2 3.4 0.7 3.5 0.5 4.1 0 4.1-0.3 3.5-0.9 4.1-1 3.5-1.5 3.4-1.9 3.5-2.4 3.4-2.3 2.8-2.7 2.7-3.2 2.7-3.2 2.2-3.5 1.9-3.7 1.7-3.7 1.4-3.7 1-4.4 0.9-3.7 0.4-4.4 0.2-4.5-0.1z"/>
<path fill="#3eb8ec" d="M555.6 634.1l355.2 0 0-331-355.2 0zM611.1 516.2l-4.4-0.5-4.5-0.9-4.4-1.2-3.7-1.2-4-1.7-4-2.1-3.3-2.1-3.5-2.6-3.2-2.9-2.7-2.7-2.2-2.8-2.3-3.5-2-3.4-1.5-3.4-1.2-3.5-0.9-4.1-0.5-3.5-0.2-4.1 0.2-4.2 0.5-3.4 1-4.1 1.2-3.5 1.6-3.4 1.9-3.5 2.4-3.4 2.3-2.8 2.7-2.8 3.1-2.7 3.5-2.6 3.6-2.2 3.8-2 3.7-1.5 5.2-1.7 5.1-1.3 5.2-0.7 5.9-0.4 6 0.1 5.9 0.6 5.9 1 5.9 1.6 5.9 2 5.2 2.2 6.7 3.3 76.2 35.4-1.5 1-74.7 34.6-6.7 3.4-5.2 2.1-8.1 2.7-4.4 1-4.5 0.8-4.4 0.6-4.5 0.2zM843.5 516.2l-6-0.8-5.9-1.2-5.9-1.7-5.9-2.2-4.5-2-5.1-2.6-74.8-34.7-1.5-0.9-0.7-0.1 2.1-0.7 74.9-34.7 6.6-3.4 5.2-2.2 5.9-2 5.9-1.5 6.7-1.1 5.9-0.6 5.9 0 6 0.5 5.4 0.9 5.7 1.4 5.1 1.9 4.5 2.1 3.7 2.1 3.9 2.8 3.3 2.8 2.8 2.7 2.9 3.5 2.4 3.4 1.9 3.5 1.6 3.4 1.4 4.1 0.9 4.2 0.5 4.1 0.1 4.2-0.3 4.1-0.8 4.1-1.2 4.2-1.7 4.1-1.9 3.5-2.2 3.4-2.7 3.5-3.4 3.4-3.2 2.8-3.6 2.5-3.7 2.2-3.7 1.9-4.4 1.8-4.5 1.3-4.4 1.1-4.4 0.7-5.2 0.4-4.5 0.1z"/>
<path fill="#34c2f2" d="M555.6 634.1l355.2 0 0-119.7-3.7 2-3.7 1.8-7.4 2.8-8.1 2.1-8.2 1.3-8.9 0.6-8.8-0.3-8.9-1.1-8.9-1.8-5.2-1.4-5.2-1.7-5.1-2-5.2-2.3-6.7-3.4-7.4-4.3-74-35.6-1.5-1-0.7-0.1-1.5 1-74 35.6-7.4 4.3-6.6 3.4-5.2 2.3-5.2 2-5.9 1.9-5.2 1.4-8.9 1.8-8.9 1.1-8.8 0.2-8.9-0.6-8.2-1.4-8.1-2.2-7.4-2.9-3.6-1.7-3.8-2.2zM731.8 469.3l1.4 0.7 2.1-0.7 74.3-35.9 8-4.6 7.4-3.6 9.6-3.9 5.2-1.6 5.1-1.4 8.9-1.8 8.9-1 8.9-0.3 8.1 0.6 8.2 1.3 8.1 2.1 7.4 2.9 3.6 1.7 3.8 2.1 0-122.8-355.2 0 0 123.1 3.7-2.1 3.5-1.7 7.6-3 8.1-2.2 8.2-1.3 8.9-0.7 8.8 0.3 8.9 1 8.9 1.8 5.2 1.4 5.2 1.7 5.1 1.9 5.2 2.3 6.7 3.3 7.8 4.5z"/>
<path fill="#46c5f0" d="M555.6 634.1l355.2 0 0-86.1-17-3.4-8.2-2-8.8-2.5-7.4-2.3-8.2-2.9-7.4-2.8-7.4-3.1-10.3-4.9-8.9-4.7-9.6-5.7-8.5-5.8-74.4-37.2-0.8-0.5-0.7-0.2-1.5 1-73.8 36.9-9.1 6.1-8.8 5.3-8.9 4.8-10.4 4.8-8.1 3.4-7.4 2.9-8.2 2.8-7.4 2.2-8.8 2.5-8.2 2-17 3.4zM731.8 469.3l1.4 0.6 2-0.6 73.5-36.8 10.3-6.9 8.9-5.2 10.4-5.4 10.3-4.7 14.1-5.5 7.4-2.6 8.1-2.5 15.6-4 17-3.5 0-89.1-355.2 0 0 89 8.9 1.7 8.9 1.9 8.1 2 8.1 2.3 8.2 2.5 7.4 2.6 7.4 2.8 7.4 3.1 10.3 4.8 9.7 5.1 8.8 5.3 8.9 6z"/>
<path fill="#5ac8eb" d="M555.6 634.1l355.2 0 0-34.9-3.4-5.1-3.4-4.8-3.8-4.9-4.1-4.8-8.4-8.9-9.5-9-9-7.6-9.8-7.6-36.7-26.5-13.8-10.7-74.2-38.6-0.8-0.5-0.7-0.2-1.5 1.1-73.2 37.9-14.1 10.9-28.5 20.4-10.2 7.6-11.2 9-9.5 8.2-8.4 8.3-8.1 9-7 8.9-5.9 8.9zM731.9 469.3l1.3 0.6 2-0.6 73.5-38.2 14-10.8 27.8-20 11.1-8.2 11.3-9 9.4-8.3 8.4-8.3 7.5-8.2 6.5-8.3 6.1-9 0-37.9-355.2 0 0 36.9 5.7 8.6 6.4 8.3 7.3 8.3 8.2 8.2 10.1 9 12.1 9.7 11.1 8.2 27.2 19.5 14.8 11.4z"/>
<path fill="#67cbe4" d="M592.8 634.1l281.4 0 0.6-5.5 0.3-5.5 0-5.5-0.3-5.6-0.6-5.5-0.7-4.8-1.1-4.8-1.2-4.9-1.5-4.8-2.1-5.5-2.1-4.8-2.4-4.9-5.2-8.9-3.2-4.9-3.5-4.8-7.5-8.9-8.4-9-10.1-9.7-17.3-15.7-73.2-39.3-0.8-0.6-0.7-0.2-1.5 1.1-72.5 38.9-15.2 13.8-8.8 8.2-7.5 7.6-6.8 7.6-4 4.8-4.1 5.6-3.7 5.5-3 4.8-2.6 4.8-2.6 5.5-2.3 5.6-1.9 5.5-1.6 5.5-1.3 5.5-0.9 5.5-0.7 5.5-0.3 5.6 0 5.5 0.3 5.5zM731.9 469.3l1.3 0.6 1.9-0.6 72.8-39.2 15.4-13.9 8.1-7.6 7.5-7.6 6.9-7.6 4.5-5.5 4.1-5.5 3.3-4.8 3.3-5.5 3-5.6 2.6-5.5 2.2-5.5 1.8-5.5 1.6-5.5 1.3-6.2 0.8-5.5 0.6-6.3 0.2-5.5-0.1-6.2-0.5-6.2-0.8-5.5-280.4 0-0.8 5.5-0.5 5.5-0.1 6.2 0.1 5.6 0.5 5.5 0.9 6.2 1.1 5.5 1.4 5.5 1.8 5.5 2.1 5.5 2.2 4.9 2.8 5.5 3.2 5.5 3.6 5.5 3.5 4.8 4.4 5.6 6.6 7.6 8.1 8.2 8.7 8.3 16 14.5z"/>
<path fill="#6ccbd8" d="M624.1 634.1l218.8 0 3.2-7.6 2.4-7.6 1.7-7.6 1-7.5 0.4-8.3-0.4-7.6-1-7.6-1.8-7.6-2.4-7.6-2.9-6.9-3.9-7.5-4.2-6.9-5.4-7.6-5.5-6.9-6.7-7.6-9.9-10.3-72.8-40.6-0.8-0.6-0.7-0.1-1.5 1-72.3 40.3-8.5 8.9-7.4 8.3-6.1 7.6-5 6.9-3.4 5.5-3.1 5.5-2.7 5.5-2.2 5.5-2.1 6.2-1.4 5.6-1 5.5-0.7 5.5-0.4 6.2 0.1 5.5 0.4 5.5 0.9 6.2 1.3 6.3 1.6 5.5 2 5.5zM731.9 469.3l1.3 0.6 1.9-0.6 72.1-40.2 8.5-8.8 8-8.9 6.1-7.6 5.4-7.6 3.4-5.5 3-5.5 2.9-6.2 2.1-5.6 1.7-5.5 1.5-6.2 1-5.5 0.6-6.2 0.2-6.2-0.3-6.2-0.7-6.2-1-5.5-1.4-5.6-2-6.2-2.2-5.5-2.6-5.5-215.8 0-2.6 5.5-2.2 5.5-1.8 5.6-1.6 6.2-1 5.5-0.7 6.2-0.3 6.2 0.1 5.5 0.5 5.5 1 6.2 1.3 5.5 1.9 6.2 2 5.6 2.5 5.5 2.9 5.5 3.3 5.5 5.7 8.3 6.1 7.6 8.6 9.6 7.8 8.3 0.8 0.6z"/>
<path fill="#70cbcd" d="M647.9 633.4l0.6 0.7 170 0 3.7-4.8 3.5-5.3 3-5.2 2.6-5.4 2.2-5.5 1.7-5.5 1.4-5.5 1-6.2 0.5-5.6 0-6.2-0.3-5.5-0.9-6.2-1.2-5.5-1.6-5.5-2-5.5-2.8-6.2-4.1-7.6-4.9-7.6-6.8-9-5.7-6.9-1.3-1.3-71.8-41.3-0.8-0.6-0.7-0.1-0.7 0.6-71.9 41.3-0.8 0.7-5.2 6.2-6.9 9-5.1 7.6-3.9 6.9-2.6 5.5-2.3 5.5-1.8 5.5-1.5 6.2-1.1 6.2-0.5 5.6 0 6.2 0.4 6.2 0.7 5.5 1.4 6.2 1.6 5.5 2.1 5.5 2.6 5.6 3 5.5 3.6 5.5zM732 469.3l1.2 0.6 0.7-0.1 1.1-0.5 71.5-41.1 0.9-1 5.2-6.2 6.9-8.9 5-7.6 4.3-7.6 2.5-5.5 2.4-6.2 1.9-6.2 1.4-6.3 0.8-6.2 0.3-5.5-0.1-6.2-0.5-6.2-1.1-6.2-1.7-6.2-2.1-6.2-2.4-5.5-2.9-5.5-3.4-5.6-4-5.5-4-4.8-164.8 0-3.7 4.4-3.7 5.1-3.2 5-2.8 4.9-2.5 5.4-1.8 4.9-1.7 5.5-1.2 4.8-0.9 4.8-0.6 5.5-0.2 5.6 0.2 5.5 0.6 5.5 1 5.5 1.3 5.5 1.6 4.8 1.9 4.9 2.5 5.5 2.5 4.8 3.4 5.5 3.2 4.9 3.6 4.8 4.3 5.5 5.3 6.2z"/>
<path fill="#74cac0" d="M670 633.4l0.9 0.7 125.2 0 5.2-4.2 5.9-5.7 5.7-6.6 4.3-6.3 4.1-7.1 3.2-7.3 2.4-7.6 1.6-7.6 0.7-7.6-0.1-7.6-0.8-7.6-1.5-6.9-2.4-7.5-3.2-7.6-4.1-7.6-4.8-7.6-5.8-8-0.8-0.7-71-42.1-0.8-0.6-0.7-0.2-0.7 0.7-71.7 42.6-5.6 7.6-5.3 8.3-4.4 8.3-3.2 7.5-2.3 7.6-1.5 7.6-0.7 7.6 0.1 8.3 1.1 8.2 1.9 7.6 2.7 7.6 3.8 7.7 4.4 7.1 5.2 6.7 5.9 6.2zM732 469.3l1.2 0.6 0.7-0.1 1-0.5 70.8-42.1 1.3-1.4 4.5-6.2 5.8-8.9 4.3-8.3 3.1-7.6 2.2-6.9 1.3-6.2 0.8-6.2 0.3-6.2-0.3-6.2-0.8-6.2-1.4-6.2-1.9-6.2-2.5-6.2-2.9-5.5-3.4-5.7-4-5.4-4.2-4.9-5.1-5.1-5.2-4.4-5.7-4.2-116.8 0-5.5 4-5.2 4.4-5.2 5.2-4.3 5-4.1 5.5-3.3 5.6-2.9 5.5-2.5 6.2-1.6 4.8-1.2 4.8-0.8 4.9-0.6 4.8-0.2 4.8 0.1 4.8 0.5 4.9 0.7 4.8 1.1 4.8 1.4 4.8 1.8 4.9 1.8 4.1 2.3 4.8 2.7 4.9 3.1 4.8 3.3 4.8 4.1 5.5 0.7 0.7z"/>
<path fill="#78c9b4" d="M693.9 633.4l1.6 0.7 76 0 0.9-0.4 4.5-2 4.4-2.4 4.4-2.6 3.7-2.5 3.7-2.7 3.9-3.3 3.5-3.3 3.4-3.6 3.3-3.9 2.7-3.6 2.5-3.9 2.1-3.7 2-4.2 1.8-4.1 1.4-4.1 1.2-4.2 1.4-7.6 0.4-4.1 0.1-4.1-0.1-4.2-0.3-4.1-0.6-4.1-0.8-4.2-2.2-7.6-3.4-8.2-4.4-8.3-5.3-8.4-0.7-0.7-70.3-43.1-0.8-0.6-0.7-0.2-0.7 0.7-70.6 43.3-1.6 2.1-3.5 5.5-4.5 8.3-3.6 8.2-2.5 8.3-1.3 6.9-0.7 6.2 0 6.2 0.5 6.2 1.1 6.2 1.7 6.2 2.3 6.3 3.1 6.2 3.3 5.6 4 5.4 4.8 5.5 5 4.8 5.5 4.5 5.9 4.1 5.9 3.4zM732.1 469.3l1.1 0.6 0.7-0.2 1-0.4 70.5-43.5 2.8-4.1 3-4.8 2.3-4.2 2.3-4.8 2.1-4.8 1.4-4.1 1.4-4.9 0.9-4.1 1-6.9 0.2-6.9-0.4-6.9-1-6.2-1.8-6.9-2.3-6.2-2.9-6.2-3.8-6.2-4.1-5.7-5.2-5.8-5.2-4.9-5.9-4.7-5.9-3.9-6.7-3.7-7.4-3.3-7.1-2.5-59.2 0-8.4 3.1-7.4 3.4-3.7 2-4.5 2.8-7.4 5.5-6.6 6-3 3.2-3 3.7-2.6 3.4-2.5 3.9-2.3 3.9-1.9 3.9-1.8 4.2-1.4 4.1-1.2 4.1-0.9 4.2-1 7.6-0.1 7.5 0.7 7.6 1.6 7.6 2.4 7.6 3.2 7.6 4.5 8.3 4.8 7.4z"/>
<path fill="#7dc8a5" d="M729.3 631.3l8.3 0 8.2-0.7 8.1-1.4 8.2-2.2 8.1-3 7.4-3.6 6.7-4 6.6-4.9 5.9-5.3 5.2-5.7 4.5-6 3.8-6.6 3.2-6.9 2.2-6.9 1.6-7.6 0.6-7.6-0.1-5.5-0.5-5.5-0.9-4.8-1.4-5.5-1.9-5.6-2.3-5.5-3.2-6.2-2.8-4.8-0.8-0.7-69.3-43.9-0.8-0.6-0.7-0.2-0.7 0.7-70.3 44.7-3.2 5.5-2.5 4.8-2.1 4.9-1.7 4.8-1.5 4.8-1.1 5.5-0.7 4.9-0.3 4.8 0.2 7.6 1 6.9 1.8 6.9 2.6 6.9 3.1 6.2 3.9 6.2 4.9 6.2 5.2 5.4 5.9 5 5.9 4.2 6.7 3.9 7.4 3.5 7.4 2.7 8.1 2.1 8.2 1.5zM732.1 469.3l1.1 0.5 0.7-0.1 0.9-0.4 69.6-44.1 0.6-0.7 1.6-2.8 3.3-6.2 2.2-4.8 2.1-5.5 1.4-4.9 1.3-5.5 0.7-5.5 0.3-4.8-0.3-7.6-1-6.9-1.8-6.9-2.6-6.9-3.5-6.9-4.1-6.2-4.8-5.9-5.2-5.3-5.9-5-6.7-4.5-7.4-4.1-7.4-3.3-7.4-2.5-8.1-1.9-8.1-1.3-8.2-0.5-8.1 0.2-8.2 0.9-8.1 1.6-8.1 2.4-7.4 2.9-7.4 3.7-6.7 4.2-6.7 5.1-5.9 5.6-4.9 5.6-4.3 6.2-3.5 6.2-3 6.9-2.1 6.9-1.3 6.9-0.6 7.6 0.1 5.5 0.6 5.5 0.9 4.9 1.4 5.5 1.7 4.8 2.3 5.5 2.7 5.6 3.4 5.7z"/>
<path fill="#82c896" d="M727.9 623.1l8.3 0.1 8.1-0.6 8.1-1.4 7.4-1.9 7.4-2.6 7.4-3.5 6.7-3.9 5.9-4.2 5.9-5.2 5.2-5.6 4.3-5.7 3.8-6.2 3.2-6.9 2.3-6.9 1.4-6.9 0.7-6.9 0-4.8-0.4-4.9-0.7-4.8-1.1-4.8-1.4-4.8-2.1-5.6-2.9-6.2-1.6-2.7-69.1-45.3-0.8-0.6-0.7-0.1-0.7 0.6-69.3 45.4-1.9 3.4-2.3 4.9-1.6 4.1-1.4 4.1-1.3 4.9-0.8 4.1-0.6 4.1-0.3 4.2 0.1 6.9 0.9 6.9 1.7 6.9 2.3 6.2 3 6.2 3.4 5.5 4.4 5.9 4.8 5.1 5.6 5 5.9 4.3 6.7 4 6.6 3.2 6.7 2.6 7.4 2.1 7.4 1.4zM732.2 469.3l1 0.5 0.7-0.1 0.9-0.4 68.4-44.8 0.8-0.7 2.2-4.2 2.2-4.8 1.6-4.1 1.3-4.2 1.2-4.8 0.8-4.1 0.5-4.2 0.2-4.1-0.2-6.9-1-6.9-1.8-6.9-2.4-6.2-3.1-6.2-4-6.2-4.7-5.8-5.1-5.3-6-4.9-5.9-4-6.6-3.8-7.4-3.2-7.4-2.5-7.4-1.8-8.2-1.2-7.4-0.5-8.1 0.2-7.4 0.8-7.4 1.5-8.2 2.3-7.4 3-6.6 3.3-6.7 4.2-5.9 4.5-5.2 4.9-5.2 5.9-4.1 5.8-3.5 6.2-2.7 6.3-2.2 6.8-1.3 6.9-0.5 6.9 0.1 4.9 0.4 4.8 0.8 4.8 1 4.2 1.2 4.1 1.8 4.8 2.2 4.9 2.4 4.8z"/>
<path fill="#88c888" d="M726.7 616.2l8 0.2 7.4-0.4 7.4-1 8.1-2 7.4-2.5 7.4-3.4 6.7-3.8 5.9-4.3 5.2-4.4 5.2-5.5 4.4-5.8 3.7-6.2 3-6.4 2.1-6.2 1.5-6.9 0.6-6.9 0.1-4.2-0.3-4.1-0.6-4.8-0.8-4.2-1.4-4.8-1.6-4.8-2.6-6-0.7-0.9-68.9-46.6-0.7-0.1-0.7 0.7-68.2 46-0.7 0.6-2.9 7-2.2 6.9-1.5 6.8-0.7 6.9 0 6.9 0.7 6.2 1.4 6.3 2.1 6.2 2.9 6.2 3.2 5.5 4.1 5.5 4.8 5.4 5.2 4.7 5.1 3.9 6 3.7 6.6 3.4 6.7 2.6 7.4 2.3 6.6 1.3zM732.2 469.3l1 0.5 0.7-0.1 0.8-0.4 68.3-46.2 0.8-1.4 2.4-5.5 2.4-7.6 1.6-7.6 0.6-7.6-0.3-6.9-0.8-6.2-1.8-6.9-2.4-6.2-3.2-6.2-3.5-5.5-4.5-5.5-4.9-5-5.1-4.4-6-4.1-6.6-3.8-6.7-3-7.4-2.5-7.4-1.8-7.4-1.1-7.4-0.5-7.4 0.2-7.4 0.8-7.4 1.4-7.4 2.1-7.4 2.9-6.6 3.4-6 3.7-5.9 4.6-5.2 4.8-4.4 5.1-4 5.5-3.5 6.2-2.7 6.2-2.2 6.9-1.1 6.2-0.6 6.9 0.1 4.1 0.3 4.2 0.6 4.1 0.8 4.1 1.2 4.2 1.4 4.1 1.9 4.8 1.4 2.8z"/>
<path fill="#8dc87a" d="M732.1 610.7l7.8-0.3 7.4-0.9 7.4-1.6 6.6-2 6.7-2.7 6.6-3.5 6-3.8 5.1-4.1 5.2-5 4.3-5.1 3.8-5.5 3.1-5.5 2.6-6.2 1.8-6.3 1.1-6.2 0.5-6.9-0.3-6.9-1.1-6.8-1.9-6.9-2.4-6.3-68.5-47.9-0.7-0.1-0.7 0.7-67.9 47.3-2.4 6.3-1.9 6.9-1 6.2-0.4 6.9 0.3 6.2 1 6.2 1.6 6.2 2.5 6.2 3 5.9 3.7 5.6 4.2 5 4.8 4.9 5.8 4.7 6 4 5.9 3.1 6.6 2.9 6.7 2.2 6.7 1.6 7.4 1zM732.3 469.3l0.9 0.5 0.7-0.1 0.8-0.4 67.3-47 0.6-0.6 1.3-3.4 2.4-7.6 1.3-6.9 0.5-6.9-0.3-6.9-0.9-6.2-1.6-6.2-2.4-6.2-2.8-5.5-3.5-5.6-4.2-5.2-5-5.1-5.4-4.5-5.9-4.1-5.9-3.3-6.7-2.9-6.6-2.3-7.4-1.8-6.7-1-7.4-0.5-7.4 0.1-7.4 0.9-6.6 1.3-7.4 2.1-6.7 2.7-6.7 3.3-5.9 3.8-5.2 3.9-5.1 4.8-4.5 5.1-4 5.5-3.1 5.5-2.7 6.2-2 6.2-1.2 6.2-0.6 6.9 0.2 6.9 1.2 7.6 1 4.1 1.3 4.2 1.8 4.8 0.6 0.7z"/>
<path fill="#99cc6a" d="M724.1 605.1l6.9 0.5 7.4-0.1 7.4-0.7 7.4-1.5 7.4-2.3 6.6-2.7 6.7-3.6 5.9-3.9 5.3-4.3 5.1-5.1 4.2-5.2 3.5-5.5 3.2-6.2 2.2-6.3 1.5-6.2 0.9-6.9 0-6.9-0.8-6.8-1.7-7.6-1.3-4.2-0.5-0.7-67.5-48.5-0.7-0.2-0.7 0.7-66.9 48-0.5 0.7-0.7 2.1-1.7 6.2-0.9 4.8-0.5 4.9-0.1 6.2 0.6 6.2 1.3 6.2 1.7 5.5 2.4 5.5 3.1 5.5 3.3 4.9 4.1 4.7 4.4 4.4 5.2 4.2 5.2 3.5 5.9 3.2 5.9 2.6 6.7 2.3 6.7 1.6zM732.3 469.3l0.9 0.5 0.7-0.1 0.8-0.4 66.6-47.9 0.7-1.1 0.7-2 1.8-6.9 0.9-5.6 0.4-5.5-0.2-6.2-0.8-6.2-1.6-6.2-2.3-6.2-2.7-5.5-3.6-5.6-4.3-5.4-4.6-4.7-5.1-4.3-5.2-3.6-5.9-3.3-6.7-3-6.7-2.3-6.6-1.7-6.7-1-7.4-0.5-6.6 0.1-7.4 0.8-7.4 1.4-6.7 2-6.7 2.7-5.9 3-5.9 3.7-5.2 4-5 4.6-4.2 4.8-3.9 5.5-3.2 5.6-2.6 6.2-1.9 6.2-1.1 6.2-0.5 6.2 0.1 5.5 0.8 6.2 1.4 6.2 1.9 5.5z"/>
<path fill="#a6d05b" d="M726.4 601l6.8 0.3 7.4-0.3 7.4-1 6.7-1.6 6.6-2.2 5.9-2.5 6-3.3 5.9-4 5.2-4.3 4.4-4.5 4.4-5.6 3.5-5.5 2.9-6.2 2.2-6.2 1.4-6.2 0.6-6.2 0.1-5.5-0.6-6.2-1.5-6.9-0.8-2.8-0.4-0.5-66.2-49.1-0.4-0.3-0.7-0.2-0.7 0.8-65.9 48.7-0.5 0.6-0.2 0.6-1.3 4.9-0.9 4.9-0.4 4.8 0 6.2 0.5 5.5 1.1 5.5 2 6.2 2.4 5.6 3.2 5.5 3.5 4.8 3.9 4.5 4.5 4.2 5.1 4.1 5.2 3.4 5.9 3.1 6 2.5 6.6 2.1 6.7 1.4zM732.4 469.3l0.8 0.5 0.7-0.1 0.7-0.4 66-49 0.4-0.7 0.6-2 1.3-5.5 0.6-4.2 0.3-4.8-0.2-6.2-0.8-6.2-1.6-6.2-2.1-5.5-2.7-5.6-3.5-5.5-4.2-5.2-4.3-4.4-5.3-4.5-5.2-3.5-5.9-3.4-5.9-2.6-6-2.1-6.6-1.6-6.7-1.1-7.4-0.6-6.6 0.2-6.7 0.6-6.7 1.3-6.6 1.9-6.7 2.6-5.9 2.9-5.9 3.7-5.2 4-4.6 4.2-4.3 4.9-4 5.5-3.1 5.5-2.4 5.5-1.9 6.2-1.1 6.2-0.5 6.2 0.1 4.9 0.6 5.5 1.3 6.2 0.8 2.7 0.4 0.7z"/>
<path fill="#b2d34c" d="M724 596.9l7 0.5 6.6-0.1 7.4-0.7 6.7-1.3 6.7-2 6.6-2.7 5.9-3 6-3.9 5.1-4.2 4.8-4.7 4.1-5 3.5-5.3 2.8-5.6 2.4-6.2 1.5-6.2 0.8-6.2 0.2-4.8-0.4-5.5-1-6.2-0.5-2.1-0.4-0.9-65.5-50.1-1.1-0.5-0.7 0.8-65.2 49.7-0.5 1-0.7 2.8-0.7 4.1-0.3 3.4-0.1 6.2 0.4 5.6 1.1 5.5 1.6 5.5 2.2 5.3 2.7 5 3.2 4.9 4 4.8 4.2 4.2 5.1 4.3 5.2 3.5 5.2 2.8 5.9 2.7 5.9 2 6 1.5zM732.4 469.3l0.8 0.4 0.7-0.1 0.7-0.3 65.2-49.9 0.5-1.1 1.1-5.6 0.4-3.4 0.3-4.1-0.3-6.2-0.7-5.6-1.6-6.2-2.1-5.5-2.7-5.5-3.1-4.8-3.8-4.9-4.6-4.8-4.9-4.1-5.1-3.6-6-3.3-5.9-2.7-5.9-2-6.7-1.7-6.6-1-6.7-0.5-6.6 0.1-6.7 0.7-6.7 1.3-6.6 2-5.9 2.3-6 3-5.9 3.7-4.8 3.7-4.8 4.5-3.9 4.5-3.5 4.8-3.1 5.6-2.5 5.5-1.9 6.2-1 5.5-0.6 6.2 0.1 4.8 0.5 4.9 1.2 6.2 0.2 0.7 0.4 0.5z"/>
<path fill="#bed73c" d="M724.2 593.4l6.8 0.6 7.4-0.2 6.6-0.7 6.7-1.4 6.7-2 5.9-2.4 5.9-3.1 5.9-3.8 5.2-4.3 4.4-4.4 4.2-5.2 3.2-5 2.8-5.3 2.3-6.2 1.3-5.5 0.9-6.3 0.1-4.1-0.2-4.8-0.8-6.2-0.2-0.7-0.4-0.7-64.6-51-1.1-0.4-0.7 0.7-64.4 50.7-0.4 0.7-0.3 1.4-0.8 6.2-0.1 5.5 0.4 5.5 1 5.5 1.6 5.5 2.3 5.6 2.6 4.8 3.3 5 3.7 4.5 4.3 4.3 4.6 3.7 5.2 3.5 5.1 2.9 6 2.7 5.9 2 5.9 1.5zM732.4 469.3l0.8 0.4 0.7-0.1 0.7-0.3 64.5-50.9 0.3-0.8 0.6-4.2 0.5-6.2-0.2-6.2-0.8-5.5-1.4-5.5-2.1-5.5-2.7-5.5-3.1-4.9-3.7-4.7-4.5-4.6-4.4-3.8-5.2-3.7-5.9-3.3-5.9-2.7-6.7-2.2-5.9-1.4-5.9-1-6.7-0.4-6.6 0.1-6.7 0.7-6.7 1.3-5.9 1.8-5.9 2.3-5.9 3-5.2 3.2-5.2 4-4.4 4.1-4 4.6-3.5 4.8-3.2 5.5-2.3 5.5-1.9 6.2-1 5.6-0.5 6.2 0 3.4 0.4 4.1 0.7 4.9 0.5 0.9z"/>
<path fill="#cddc36" d="M727.9 590.7l6.8 0.2 6.6-0.4 6.7-1.1 5.9-1.4 5.9-2.1 6-2.6 5.9-3.4 5.2-3.6 4.4-3.9 4.4-4.6 3.7-4.9 3.3-5.3 2.6-5.6 1.9-5.5 1.3-6.2 0.6-5.5-0.1-6.2-0.7-5.7-64-52.2-1.1-0.4-64.4 52.4-0.2 0.4-0.2 1.4-0.5 4.8 0 5.5 0.6 5.5 1.2 5.5 1.7 5.6 2.5 5.5 2.8 4.8 3.2 4.5 4 4.5 4.4 4.1 4.9 3.8 5.2 3.2 5.2 2.6 5.9 2.4 5.9 1.8 6 1.3zM732.5 469.3l0.7 0.4 0.7-0.1 0.6-0.3 63.6-51.7 0.4-0.7 0.1-1.4 0.5-6.2-0.2-5.5-0.7-5.5-1.3-5.6-2-5.5-2.7-5.5-3-4.8-3.8-4.8-4.1-4.3-4.4-3.8-5.2-3.7-5.2-3-5.9-2.7-5.9-2.1-6.7-1.7-6.7-1-5.9-0.4-6.6 0.1-6 0.6-6.6 1.3-5.9 1.8-6 2.3-5.9 2.9-5.2 3.3-5.1 4-4.5 4.1-3.7 4.3-3.5 4.9-3 5.5-2.4 5.5-1.6 5.5-1.1 5.5-0.4 5.5 0.2 6.9 0.4 3.5 0.4 0.7z"/>
<path fill="#dce22f" d="M729 587.9l6.4 0.1 6.7-0.5 6.6-1.1 6-1.6 5.9-2.1 5.9-2.8 5.2-3.1 5.2-3.8 4.4-3.9 4.2-4.6 3.5-4.9 2.9-4.8 2.4-5.5 1.8-5.5 1.2-5.6 0.5-6.2 0-4.8-0.4-3.4-63.2-53.1-1-0.4-63.6 53.5-0.5 4.8 0.2 5.5 0.6 5.5 1.3 5.5 2 5.6 2.3 4.8 2.9 4.8 3.7 4.8 3.7 4.1 4.5 4 4.4 3.2 5.2 3.2 5.2 2.5 5.9 2.3 5.9 1.7 5.9 1.1zM732.5 469.3l0.7 0.4 1.3-0.4 62.4-52.4 0.6-0.7 0.4-4.8-0.2-5.6-0.7-5.5-1.3-5.5-2-5.5-2.7-5.5-3-4.8-3.7-4.7-3.7-3.8-4.5-3.9-5.2-3.7-5.1-3-6-2.7-5.9-2-5.9-1.5-6.7-1.1-5.9-0.4-6.6 0.2-6 0.6-6.6 1.3-5.9 1.8-6 2.3-5.9 3.1-5.2 3.3-4.4 3.5-4.4 4.2-3.7 4.3-3.4 4.9-2.7 4.8-2.4 5.6-1.6 5.5-1 5.5-0.5 5.5 0.1 3.5 0.3 4.1 0.6 0.7z"/>
<path fill="#ebe828" d="M726.9 585.1l6.3 0.3 6.7-0.2 6.6-1 5.9-1.4 6-1.9 5.9-2.6 5.2-2.9 5.1-3.6 4.7-3.9 4.2-4.4 3.7-4.8 3.3-5.3 2.5-5.5 1.9-5.5 1.2-5.5 0.6-5.5 0-5.6-0.1-0.7-0.3-0.6-62.1-53.8-1-0.4-62.5 54.2-0.3 0.6-0.1 0.7 0 5.6 0.6 5.5 1.2 5.5 1.6 4.8 2.1 4.8 2.7 4.9 3.5 4.8 3.6 4.1 3.9 3.8 4.5 3.5 5.2 3.3 5.1 2.7 5.2 2.1 5.9 1.9 6 1.3zM732.5 469.3l0.7 0.4 1.3-0.4 61.6-53.4 0.4-0.4 0.2-0.7 0-2.1-0.1-5.5-0.8-5.5-1.4-5.5-2-5.5-2.5-4.9-3-4.8-3.9-4.8-3.9-4.1-4.5-3.7-5.1-3.6-5.2-2.9-5.9-2.6-6-1.9-5.9-1.4-5.9-0.9-5.9-0.3-6.7 0.2-5.9 0.7-5.9 1.2-5.9 1.8-6 2.5-5.1 2.6-5.2 3.4-4.5 3.5-4.4 4.2-3.7 4.4-3.1 4.5-2.8 5-2.2 5.3-1.7 5.5-0.9 5.6-0.4 5.5 0 4.1 0.2 0.7 0.5 0.6z"/>
<path fill="#faed22" d="M723.8 582.4l6.4 0.6 6.7 0 6.7-0.7 5.9-1.1 5.9-1.7 5.9-2.3 5.9-3 5.2-3.4 4.5-3.5 4.4-4.3 4-4.8 3.2-4.8 2.8-5.5 2.1-5.5 1.4-5.5 0.7-5.5 0.2-4.9-0.1-0.7-0.2-0.4-61.2-54.7-1-0.4-61.4 54.9-0.4 0.6-0.1 0.7 0.2 4.9 0.6 4.8 1.1 4.8 1.6 4.8 2.2 4.8 2.4 4.2 2.8 4.1 3.6 4.3 3.7 3.6 4.5 3.6 4.4 3 4.5 2.4 5.1 2.4 5.2 1.8 5.2 1.4zM732.6 469.3l0.6 0.4 1.3-0.4 60.9-54.4 0.3-0.8-0.2-5.5-0.8-5.5-1.4-5.5-1.8-4.9-2.4-4.8-3-4.8-3.9-4.8-3.9-4-4.4-3.8-5.2-3.5-5.2-2.9-5.1-2.3-6-2-5.9-1.4-5.9-0.9-5.9-0.3-5.9 0.1-6 0.7-5.9 1.2-5.9 1.7-5.9 2.4-5.2 2.7-5.2 3.3-4.4 3.5-4.3 4.1-3.5 4.1-3.3 4.7-2.7 5-2.1 4.8-1.7 5.5-1 5.5-0.4 5.6 0 2 0.3 0.7z"/>
<path fill="#fbe11e" d="M724.9 580.3l6.1 0.5 6.6-0.1 6.7-0.7 5.9-1.2 5.9-1.8 6-2.5 5.1-2.7 5.2-3.4 4.5-3.7 4.4-4.4 3.7-4.6 3-4.6 2.6-5.3 2-5.5 1.3-5.5 0.7-5.5 0-2.8-60.4-55.8-1-0.3-60.7 55.9-0.2 0.9 0.3 4.8 0.9 4.9 1.3 4.8 1.6 4.1 2.4 4.9 2.6 4.1 3 3.9 3.3 3.7 3.7 3.4 4.1 3.2 4.4 2.9 4.4 2.3 5.2 2.3 4.5 1.5 5.1 1.3zM732.6 469.3l0.6 0.4 1.2-0.4 59.9-55.2 0.4-0.7-0.4-5.5-0.9-4.8-1.6-5.5-2-4.9-2.6-4.8-2.9-4.3-3.7-4.5-3.7-3.6-4.5-3.6-4.4-3-5.2-2.8-5.2-2.3-5.2-1.7-5.9-1.5-5.9-0.9-5.9-0.3-5.9 0.1-6 0.7-5.9 1.2-5.9 1.8-5.2 2.1-5.2 2.6-5.1 3.3-4.5 3.5-4.4 4.3-3.5 4.1-2.9 4.1-2.7 4.9-2.1 4.8-1.7 5.5-1 5.5-0.4 5.5 0.4 0.7z"/>
<path fill="#fcd61a" d="M724.7 578.2l6.3 0.6 5.9-0.1 5.9-0.5 5.9-1.1 6-1.7 5.9-2.3 5.2-2.7 5.1-3.3 4.5-3.4 4.4-4.3 3.9-4.6 3.2-4.8 2.5-5 2.1-5.4 1.4-5.5 0.8-5.5 0-0.7-0.2-0.7-59.4-56.5-0.9-0.3-59.7 56.8-0.2 0.7 0.4 4.1 1 4.9 1.3 4.1 1.9 4.8 2.2 4.2 2.7 4.1 3 3.8 3 3.2 3.7 3.3 3.7 2.9 4.4 2.8 4.5 2.3 4.4 2 5.2 1.7 5.2 1.3zM732.6 469.3l0.6 0.3 1.2-0.3 58.7-55.9 0.6-0.7 0-0.6-0.6-4.9-1.1-4.8-1.6-4.8-2.2-4.9-2.5-4.3-2.9-4.1-3.7-4.2-3.7-3.5-4.5-3.5-4.4-2.9-4.4-2.3-5.2-2.3-5.2-1.7-5.9-1.4-5.2-0.7-5.9-0.4-5.9 0.2-6 0.7-5.9 1.2-5.2 1.6-5.1 2-5.2 2.6-4.5 2.8-4.4 3.3-4.2 3.8-3.7 4.2-3.2 4.4-2.6 4.5-2.2 4.9-1.6 4.8-1.2 5.5-0.6 4.8z"/>
<path fill="#fcca15" d="M731 576.9l5.9-0.1 5.2-0.4 5.9-1.1 5.2-1.4 5.2-1.9 5.1-2.4 4.5-2.6 4.4-3.1 4.5-3.8 3.7-3.9 3.2-4.2 2.6-4.1 2.5-4.8 1.8-4.9 1.3-4.8 0.7-4.8-0.4-0.7-58.2-57.2-0.9-0.3-58.5 57.5-0.4 0.7 0.6 4.1 1.2 4.9 1.7 4.8 2.1 4.4 2.3 3.9 3.1 4.1 3.5 4 3.7 3.4 3.7 2.9 4.4 2.9 4.5 2.4 5.2 2.3 5.1 1.7 5.2 1.3 5.2 0.8zM732.6 469.3l0.6 0.3 1.2-0.3 58-57.1 0.3-0.8-0.8-4.9-1.3-4.8-1.9-4.8-2-4.2-2.6-4.1-3.2-4.1-3.3-3.6-3.7-3.4-4.4-3.3-4.5-2.8-4.4-2.2-5.2-2.1-5.2-1.6-5.2-1.2-5.1-0.7-5.2-0.3-5.9 0.2-5.2 0.6-5.9 1.1-5.2 1.6-5.2 2-4.4 2.1-4.5 2.7-4.4 3.2-3.7 3.2-3.7 3.9-3.2 4-2.7 4.2-2.5 4.8-1.8 4.8-1.3 4.8-0.8 4.9 0.1 0.7 0.3 0.3z"/>
<path fill="#fdbe11" d="M726.9 574.8l5.6 0.3 5.9-0.1 5.2-0.6 5.9-1.3 5.2-1.5 5.1-2.1 5.2-2.6 4.5-2.8 4.4-3.4 3.7-3.5 3.7-4.1 3.2-4.5 2.7-4.8 2.1-4.9 1.5-4.8 0.9-4.8-57.6-58.6-0.9-0.3-57.9 58.9 0.6 3.4 1.3 4.9 1.6 4.1 2.1 4.1 2.5 4.2 2.6 3.4 3 3.5 3.5 3.3 3.7 2.9 3.7 2.6 4.4 2.5 4.5 2 4.4 1.7 4.5 1.3 4.4 0.9zM732.7 469.3l0.5 0.3 1.1-0.3 57.1-57.9 0.3-0.7-1-4.9-1.5-4.8-1.8-4.1-2.2-4.2-2.8-4.1-2.8-3.4-3.5-3.7-3.7-3.2-3.7-2.7-4.4-2.7-5.2-2.5-4.4-1.8-4.5-1.3-5.2-1.2-5.1-0.7-5.2-0.3-5.2 0.1-5.2 0.5-5.2 1-5.1 1.4-4.5 1.6-5.2 2.3-4.4 2.6-4.4 3-3.7 3.1-3.8 3.8-3.4 4.1-2.8 4.1-2.2 4.2-2 4.8-1.3 4.1-1 4.9 0.3 0.7z"/>
<path fill="#fbaf15" d="M731 573.4l5.2 0 5.1-0.4 4.5-0.7 5.2-1.2 4.4-1.5 5.2-2.2 4.4-2.3 4.5-2.8 4.2-3.4 3.6-3.4 3.3-3.7 2.8-3.9 2.5-4.1 1.9-4.2 1.5-4.1 1.3-4.8-0.1-0.7-0.3-0.4-56.1-58.9-0.9-0.3-56.8 59.6 0 0.7 1 4.1 1.5 4.1 1.9 4.2 2.3 4.1 2.7 3.9 3 3.5 3 3 3.7 3.1 3.7 2.7 3.7 2.2 4.4 2.3 4.4 1.8 4.5 1.4 5.2 1.2 4.4 0.7zM732.7 469.3l0.5 0.3 1.1-0.3 55.9-58.6 0.4-0.7-0.7-3.5-1.6-4.8-1.9-4.1-2.3-4.2-2.8-4.1-2.9-3.5-3-3-3.7-3.2-3.7-2.6-4.5-2.7-4.4-2.2-4.4-1.7-4.5-1.4-5.2-1.2-5.1-0.7-5.2-0.3-5.2 0.1-5.2 0.5-5.2 1-4.4 1.2-4.4 1.5-4.5 2-4.4 2.4-4.5 2.9-3.7 2.9-3.7 3.6-3.2 3.7-3 4.1-2.4 4.2-1.9 4.1-1.7 4.8-0.9 4.2 0.4 0.7z"/>
<path fill="#faa018" d="M725.1 571.3l5.9 0.5 5.2 0 5.1-0.4 5.2-0.8 5.2-1.4 5.2-1.8 4.4-2 4.5-2.4 4.4-3 3.7-3.1 3.7-3.6 3.4-4 2.8-4.2 2.2-4.1 2.1-4.8 1.4-4.8-0.2-0.7-55.3-60-0.8-0.3-55.5 60.3-0.2 0.7 1.2 4.1 1.3 3.4 1.6 3.5 2 3.4 2.4 3.5 2.8 3.4 3 3 2.8 2.5 3.1 2.4 3.7 2.5 3.7 2 3.7 1.8 3.7 1.4 4.4 1.4 4.5 1zM732.7 469.3l0.5 0.3 1.1-0.3 55.2-60 0-0.7-0.8-2.8-1.8-4.8-1.9-3.8-2.3-3.8-2.9-3.9-2.9-3.4-3-2.8-3.7-3-3.7-2.6-4.4-2.5-4.5-2.1-3.7-1.4-4.4-1.3-5.2-1.1-4.4-0.6-5.2-0.4-4.5 0.1-5.1 0.5-5.2 0.9-4.5 1.2-4.4 1.5-4.4 1.9-4.5 2.3-3.7 2.4-3.7 2.8-3.7 3.3-3.1 3.4-2.8 3.6-2.5 4-2.2 4.1-1.6 4.2-1.3 4.1 0.2 1z"/>
<path fill="#f8911c" d="M726 570l5 0.4 5.2 0 5.1-0.5 5.2-0.8 5.2-1.4 4.4-1.5 4.5-2 4.4-2.4 4.5-2.9 3.7-3 3.7-3.6 2.9-3.4 2.7-3.8 2.5-4.3 2.1-4.6 1.3-4.2-0.4-0.6-54-60.7-0.8-0.2-54.2 60.9-0.4 0.6 1.1 3.5 1.4 3.4 1.8 3.5 2.2 3.6 2.2 3 2.6 3 2.7 2.8 3.2 2.8 3.4 2.4 2.9 1.9 3.7 2 3.7 1.7 3.7 1.5 4.5 1.3 4.4 1zM732.7 469.3l0.5 0.3 1.1-0.3 54-60.7 0.1-0.7-1.4-4.1-1.6-3.5-2.2-4.1-2.3-3.5-2.6-3.1-2.9-3.2-3-2.7-3.7-2.9-3.7-2.4-3.7-2-3.7-1.7-4.4-1.7-4.5-1.3-4.4-1-4.4-0.6-5.2-0.3-4.5 0.1-5.1 0.5-4.5 0.7-4.4 1.1-4.5 1.5-4.4 1.9-4.4 2.3-3.7 2.3-3.7 2.8-3.3 2.8-3.3 3.5-2.8 3.4-2.5 3.8-2 3.8-1.8 4.2-1.2 3.4 0.1 0.7z"/>
<path fill="#f68220" d="M726.2 568.6l4.8 0.4 5.2 0 5.1-0.5 4.5-0.7 4.4-1.1 5.2-1.7 4.4-1.9 4.5-2.3 3.7-2.4 3.7-2.9 3.7-3.4 3.2-3.5 2.7-3.6 2.5-4 2.3-4.8 1.2-3.5-53.3-62-0.8-0.2-53.4 62.2 0.6 2.1 1.8 4.1 1.8 3.5 2.3 3.4 2.1 2.8 2.6 2.9 3 2.9 2.9 2.4 3 2.2 3.7 2.3 3.7 1.9 3.7 1.6 3.7 1.3 3.7 1.1 3.7 0.8zM732.8 469.3l0.4 0.2 1-0.2 52.8-61.4 0.3-0.7-1.6-3.9-1.7-3.7-2.1-3.4-2.4-3.5-2.6-3.1-3-2.9-3-2.6-3.7-2.7-3.7-2.3-3.7-2-4.4-1.9-3.7-1.3-3.7-1-4.4-0.9-4.5-0.5-4.4-0.3-4.5 0.1-4.4 0.4-4.4 0.7-4.5 1.1-3.7 1.1-4.4 1.8-4.5 2.2-3.7 2.2-3.7 2.6-3.7 3.1-2.9 3-2.8 3.2-2.4 3.4-2.1 3.5-1.7 3.5-1.6 4.1 0.3 0.7z"/>
<path fill="#f47321" d="M725.8 567.2l4.4 0.4 5.2 0.1 4.5-0.3 5.1-0.8 4.5-1 4.4-1.4 4.5-1.8 4.4-2.2 3.7-2.3 3.7-2.7 3.7-3.2 3-3 2.5-3.2 2.6-3.8 2.1-3.8 1.9-4.1 0-0.7-0.3-0.3-50.6-61.1-1.1-1.3-0.8-0.2-52.2 62.9 0 0.7 2.2 4.8 1.9 3.4 2.2 3.2 2.5 3.1 2.6 2.8 5.3 4.5 2.9 2.1 3.7 2.3 6.7 3.1 3.7 1.3 3.7 1.1zM732.8 469.3l0.4 0.2 1-0.2 51.4-62.1 0.4-0.7-1-2.7-2.1-4.2-2.2-3.4-2.4-3.2-2.6-3-2.9-2.8-3.3-2.7-3-2.2-3.7-2.2-3.7-1.9-3.7-1.6-3.7-1.3-3.7-1-4.4-0.9-4.5-0.6-4.4-0.3-4.5 0.1-4.4 0.4-4.4 0.7-3.7 0.9-4.5 1.4-3.7 1.4-4.4 2.2-3.7 2.1-3.7 2.6-3 2.4-2.9 2.8-3 3.3-2.5 3.4-2.2 3.4-2.1 4.2-1 2.7 0.3 0.7z"/>
<path fill="#f36422" d="M724.9 565.8l4.6 0.5 4.4 0.1 5.2-0.2 4.5-0.6 4.4-0.9 4.4-1.3 3.7-1.3 4.5-2.1 4.4-2.5 3.7-2.5 3.6-3 2.8-2.7 3.1-3.5 2.5-3.4 2.5-4.2 1.6-3.4-0.2-0.7-49.6-62.1-1.1-1.3-0.7-0.2-50.8 63.6-0.2 0.7 1.4 3 1.8 3.2 4 5.5 4.6 4.9 5.2 4.2 5.9 3.7 5.9 2.8 6.7 2.2zM732.8 469.3l0.4 0.2 1-0.2 50.6-63.5-0.7-2-2.3-4.2-2.3-3.4-2.6-3.4-2.3-2.4-2.9-2.7-3-2.4-3.7-2.6-3.7-2.1-2.9-1.5-3.7-1.5-3.7-1.2-4.5-1.2-3.7-0.7-4.4-0.5-3.7-0.2-4.5 0.1-4.4 0.4-4.4 0.7-3.7 0.9-3.7 1.1-3.7 1.4-3.7 1.7-3.7 2.1-3.7 2.4-3 2.3-3 2.7-2.9 3.1-2.3 2.8-2.4 3.5-2.3 4.1-1.2 2.7z"/>
<path fill="#f25522" d="M730 565.1l3.9 0.1 4.5-0.2 3.7-0.4 4.4-0.8 4.5-1.1 3.7-1.3 3.7-1.6 3.7-1.8 3.7-2.3 2.9-2.1 3-2.4 2.9-2.8 2.9-3.3 2.1-2.7 2.2-3.5 1.8-3.4-0.4-0.7-48.2-62.8-1.1-1.3-0.7-0.2-49.4 64.3-0.4 0.7 1.4 2.7 1.8 3 2.2 3.1 2.2 2.6 2.3 2.4 2.9 2.7 3 2.3 2.9 2 3 1.7 3.7 1.9 6.6 2.6 3.7 1 3.7 0.8zM732.9 469.3l0.3 0.2 1-0.2 49.3-64.1 0-0.7-1.9-3.5-1.7-2.7-2.3-3.1-2.2-2.5-2.2-2.3-3-2.6-3-2.3-2.9-1.9-3-1.7-3.7-1.8-3.7-1.5-3.7-1.2-3.7-1-3.7-0.7-3.7-0.4-4.4-0.3-4.5 0.1-3.7 0.3-7.4 1.3-3.7 1.1-3.7 1.3-3.7 1.6-3.7 1.9-3.7 2.3-2.9 2.2-3 2.5-2.5 2.5-2.7 2.9-2.2 3-1.9 3-1.9 3.5 0.1 0.8z"/>
<path fill="#f04623" d="M727.1 563.8l3.9 0.3 4.4 0 3.7-0.3 4.5-0.5 4.4-1 3.7-1 3.7-1.4 4.4-2 3.7-2 3.7-2.5 3-2.2 3-2.7 2.9-3.2 2.4-2.9 2.3-3.5 1.2-2 0.2-0.7-47.3-64.2-1-1.2-0.7-0.3-48.4 65.7 0.6 1.4 2.1 3.4 4.3 5.3 2.2 2.3 2.9 2.7 5.2 3.8 5.9 3.3 6 2.4 6.6 1.9zM732.9 469.3l0.3 0.2 0.9-0.2 47.9-64.8 0.2-0.7-2-3.5-1.9-2.7-4.4-5.1-5.2-4.6-5.9-4-3-1.6-3.7-1.7-6.6-2.3-3.7-0.9-3.7-0.7-7.4-0.6-4.5 0.1-3.7 0.3-7.4 1.4-3.7 1-3.7 1.4-6.6 3.1-3.7 2.3-3 2.1-5.2 4.5-4.5 5.3-2.1 3.1-1.8 3.1 0.2 0.7z"/>
<path fill="#ef3c23" d="M724.9 562.4l3.9 0.4 4.4 0.2 4.4-0.1 3.7-0.4 3.7-0.6 4.5-1.1 4.4-1.4 3.7-1.6 3.7-1.8 3.7-2.2 3.7-2.7 3-2.5 2.9-2.9 2.8-3.3 2.9-4.2 0.4-0.6 0.1-0.7-45.9-64.9-1-1.2-0.7-0.2-47.1 66.3 0.2 0.7 2.2 3.4 4 4.8 4.4 4.2 5.2 3.9 5.2 2.9 5.9 2.6 5.9 1.8zM732.9 469.3l0.3 0.2 0.9-0.2 46.5-65.5 0.2-0.7-1-1.9-2.2-3.1-4.4-5.1-5.2-4.5-5.9-3.8-3.7-2-3-1.3-6.7-2.2-6.6-1.4-7.4-0.6-7.4 0.3-3.7 0.6-3.7 0.7-3.7 1-3.7 1.3-6.7 3.1-5.9 3.7-3 2.3-2.8 2.5-2.3 2.5-2.3 2.7-2.2 3.1-1.2 2.1 0.3 0.7z"/>
<path fill="#ee3124" d="M727.8 561.7l3.9 0.2 3.7 0 7.4-0.7 3.7-0.7 3.7-1 3.7-1.2 3.7-1.5 3.7-1.9 3-1.8 2.9-2 3-2.4 2.4-2.2 2.6-2.7 2.2-2.8 2-2.8-0.1-0.6-44.5-65.6-0.9-1.1-0.7-0.3-45.5 67-0.1 0.6 1.4 2.1 2.2 2.8 2.8 3 4.4 4 5.2 3.6 5.9 3.1 5.9 2.3 6 1.6zM732.9 469.3l0.3 0.1 0.9-0.1 45.4-66.9-0.8-1.4-2.6-3.4-4.4-4.8-5.2-4.2-5.9-3.7-5.9-2.7-6.7-2.1-6.7-1.3-6.6-0.5-7.4 0.3-6.7 1.1-6.6 1.9-6.7 2.9-5.9 3.5-5.2 4.1-2.9 2.7-2.3 2.6-2.3 2.9-1.2 2.1z"/>
<path fill="#ee2624" d="M724.7 560.3l4.1 0.5 3.7 0.2 7.4-0.4 3.7-0.5 3.7-0.8 3.7-1 3.7-1.3 3.7-1.6 2.9-1.6 3.7-2.3 3-2.1 2.9-2.5 2.6-2.4 2.6-3.1 1.8-2.5-0.1-0.7-43-66.2-0.9-1.1-0.7-0.3-44 67.6-0.1 0.7 2.7 3.6 3.8 4 4.3 3.6 4.4 2.9 4.5 2.4 5.2 2.2 5.1 1.6zM733 469.3l0.2 0.1 0.8-0.1 43.9-67.6-0.1-0.7-2.4-3.1-2.2-2.4-2.9-2.8-5.3-4-5.2-3.1-5.9-2.6-5.9-1.9-6.7-1.3-6.6-0.5-6.7 0.2-3.7 0.5-3.7 0.7-6.6 1.9-6 2.6-5.9 3.4-5.2 3.9-2.9 2.8-2.2 2.4-2.6 3.3-0.1 0.7z"/>
<path fill="#ed1c24" d="M726.7 559.6l7.2 0.4 7.4-0.5 6.7-1.3 6.7-2.2 3.7-1.6 2.9-1.6 3-1.8 2.9-2.1 5.2-4.5 3-3.3 1-1.5-0.3-0.7-41.4-66.9-0.8-1-0.7-0.4-42.7 69 2.7 3.4 3.7 3.6 4.5 3.5 4.4 2.8 5.2 2.5 5.2 2 5.2 1.3zM733 469.3l0.2 0.1 0.8-0.1 42.3-68.3 0.1-0.7-4-4.4-4.2-3.8-4.7-3.3-5.1-2.9-5.2-2.2-5.9-1.8-6-1.2-6.6-0.5-6.7 0.3-5.9 0.8-6.7 1.8-5.9 2.4-5.2 2.7-5.1 3.6-4.5 3.9-4 4.6 0 0.7z"/>
<path fill="#e21d24" d="M729.1 558.9l6.3 0.2 6.7-0.6 6.6-1.5 6-2 5.9-2.8 5.9-3.8 5.2-4.4 2.8-3 0.3-0.7-40.2-68.3-0.7-1-0.7-0.4-41.1 69.7 0.4 0.7 2.2 2.4 4.5 4 4.4 3.2 4.4 2.5 5.2 2.3 5.2 1.7 5.2 1.1zM733 469.3l1 0 40.6-69 0.2-0.7-3.9-4.1-4.4-3.7-4.4-3-5.2-2.7-5.2-2-5.2-1.5-5.9-1-5.9-0.5-5.9 0.2-6 0.8-5.9 1.5-5.9 2.1-5.2 2.6-5.2 3.4-4.5 3.8-3.9 4.1 0.2 0.7z"/>
<path fill="#d61e25" d="M724.8 557.6l6.9 0.6 6.7-0.2 6.6-1 6.7-1.8 6.7-2.7 5.9-3.5 2.9-2.1 3-2.5 2.7-2.7 0.2-0.7-38.9-69.6-1-0.7-39.3 70.3 0.2 0.7 0.6 0.7 4.5 4 3.7 2.7 4.4 2.7 3.7 1.8 4.4 1.7 4.5 1.3zM733 469.3l1 0 39.2-70.3-3-3.1-4.4-3.7-4.5-2.8-5.2-2.7-5.1-1.9-5.2-1.5-5.2-0.8-5.9-0.5-5.9 0.2-6 0.8-5.1 1.3-6 2.1-5.1 2.5-4.5 2.7-4.9 3.9-2.5 2.4-0.9 1.1z"/>
<path fill="#cb1f26" d="M725.9 556.9l6.6 0.5 5.9-0.2 5.9-0.9 6.7-1.7 5.9-2.3 5.2-2.8 5.1-3.6 4-3.5 0-0.7-36.3-69-1-1.6-0.7-0.4-37.5 71 0.1 0.7 0.6 0.7 4.2 3.5 3.7 2.6 4.5 2.4 3.7 1.7 4.4 1.6 4.5 1.2zM733.1 469.3l0.8 0 37.5-71-0.4-0.7-2.3-2.1-4.4-3.4-4.5-2.7-5.1-2.4-5.2-1.8-5.2-1.3-5.2-0.8-5.2-0.2-5.9 0.2-5.2 0.8-5.1 1.2-5.2 1.8-5.2 2.5-4.4 2.6-4.5 3.4-2.4 2.2-0.4 0.7z"/>
<path fill="#c02026" d="M726.9 556.2l5.6 0.4 5.9-0.2 5.9-0.9 5.9-1.5 5.2-1.9 5.2-2.6 4.4-2.8 4.5-3.6-34.7-70.4-0.9-1.5-0.7-0.4-35.5 71.6-0.2 0.7 3.1 2.6 3 2.1 3.7 2.2 3.7 1.8 3.7 1.5 3.7 1.2 4.4 1zM733.1 469.3l0.8-0.1 35.5-71.6-0.2-0.7-0.8-0.7-4.9-3.7-4.4-2.6-5.2-2.4-4.4-1.5-5.2-1.3-5.2-0.8-5.2-0.2-5.1 0.2-5.2 0.7-5.2 1.1-5.2 1.8-5.2 2.3-4.4 2.6-5 3.8-0.8 0.7-0.3 0.7z"/>
<path fill="#b01d22" d="M727.8 555.5l5.4 0.3 5.2-0.2 5.2-0.7 5.1-1.2 5.2-1.8 5.2-2.4 5.2-3.2 2.5-1.8 0.7-0.7-32.8-71.1-0.8-1.5-0.7-0.3-33.7 72.9 1.9 1.6 3.7 2.5 3.7 2 3.7 1.7 3.7 1.4 3.7 1.1 3.7 0.8zM733.1 469.3l0.5 0 0.3-0.2 0.9-1.9 32.6-70.3-0.1-0.7-5.2-3.8-4.5-2.4-5.2-2.2-4.4-1.4-4.4-1-4.5-0.7-5.2-0.2-5.1 0.2-4.5 0.5-5.2 1.1-4.4 1.4-5.2 2.2-4.4 2.4-5.4 3.9-0.1 0.7z"/>
<path fill="#a01a1e" d="M728.6 554.8l4.6 0.2 5.2-0.2 4.4-0.6 5.2-1.1 4.4-1.4 5.2-2.3 5.2-2.9 2-1.4 0.6-0.6-31.4-73.1-0.8-0.4-31.6 73.5 1.3 1.1 3.7 2.3 3.7 2 3.7 1.5 3.7 1.3 3.7 1 3.7 0.7zM733.1 469.3l0.4 0 0.4-0.3 0.8-1.8 30.5-71 0.1-0.7-3.2-2.2-3.7-2.1-3.7-1.8-3.7-1.4-3.7-1.1-4.5-0.9-4.4-0.6-4.5-0.2-4.4 0.2-4.4 0.5-4.5 0.8-3.7 1.1-4.4 1.6-3.7 1.7-3.7 2.1-3.3 2.3 0 0.7z"/>
<path fill="#8f161a" d="M729.1 554.1l4.8 0.2 4.5-0.2 4.4-0.6 4.5-1 5.1-1.6 4.5-1.9 5.2-2.8 0.5-0.4 0.4-0.7-29-73.7-0.8-0.4-29.2 74.1 0.4 0.7 2.9 1.8 3.7 1.8 3.7 1.6 3.7 1.2 3.7 0.9zM733.2 469.3l0.7-0.4 0.8-1.8 28.3-72.3-2.4-1.6-3.7-2-3.7-1.6-3.7-1.3-3.7-1-3.7-0.7-3.7-0.4-4.5-0.3-4.4 0.2-3.7 0.4-4.4 0.8-3.7 1-3.7 1.2-3.7 1.6-3.7 2-2.7 1.7z"/>
<path fill="#7f1316" d="M729.3 553.4l4.6 0.2 4.5-0.2 3.7-0.5 4.4-0.9 4.5-1.3 4.4-1.7 4.8-2.5 0.2-0.7-26.5-74.4-0.7-0.3-26.6 74.7 0.2 0.7 2 1.1 3.7 1.8 3.7 1.4 6.6 1.7zM733 468.6l0.2 0.7 0.8-0.7 26.5-74.5-0.8-0.7-4.3-2.1-6.7-2.5-6.6-1.5-3.7-0.4-3.7-0.2-3.7 0-3.7 0.3-3.7 0.6-3.7 0.8-3.7 1.1-3.7 1.4-4.5 2.1-1.5 1.1z"/>
<ellipse cx="733.5" cy="470.1" rx="88.8" ry="82.8" fill="#2c2f86"/>
</g>
<g stroke="#000" stroke-width="1.45" fill="none">
<rect x="73" y="302.3" width="355.1" height="330.9"/>
<path d="M102.5 633.2v-4M102.5 302.3v4M73 605.7h4M428.1 605.7h-4M132.1 633.2v-7.5M132.1 302.3v7.5M73 578.1h7.5M428.1 578.1h-7.5M161.7 633.2v-4M161.7 302.3v4M73 550.5h4M428.1 550.5h-4M191.3 633.2v-7.5M191.3 302.3v7.5M73 522.9h7.5M428.1 522.9h-7.5M220.9 633.2v-4M220.9 302.3v4M73 495.4h4M428.1 495.4h-4M250.5 633.2v-7.5M250.5 302.3v7.5M73 467.8h7.5M428.1 467.8h-7.5M280.1 633.2v-4M280.1 302.3v4M73 440.2h4M428.1 440.2h-4M309.7 633.2v-7.5M309.7 302.3v7.5M73 412.6h7.5M428.1 412.6h-7.5M339.3 633.2v-4M339.3 302.3v4M73 385h4M428.1 385h-4M368.9 633.2v-7.5M368.9 302.3v7.5M73 357.5h7.5M428.1 357.5h-7.5M398.5 633.2v-4M398.5 302.3v4M73 329.9h4M428.1 329.9h-4"/>
</g>
<g font-size="20.3">
<text x="73" y="656.9" text-anchor="middle">-60</text>
<text x="64" y="639.5" text-anchor="end">-60</text>
<text x="132.1" y="656.9" text-anchor="middle">-40</text>
<text x="64" y="584.3" text-anchor="end">-40</text>
<text x="191.3" y="656.9" text-anchor="middle">-20</text>
<text x="64" y="529.1" text-anchor="end">-20</text>
<text x="250.5" y="656.9" text-anchor="middle">0</text>
<text x="64" y="474" text-anchor="end">0</text>
<text x="309.7" y="656.9" text-anchor="middle">20</text>
<text x="64" y="418.8" text-anchor="end">20</text>
<text x="368.9" y="656.9" text-anchor="middle">40</text>
<text x="64" y="363.7" text-anchor="end">40</text>
<text x="428.1" y="656.9" text-anchor="middle">60</text>
<text x="64" y="308.5" text-anchor="end">60</text>
</g>
<g stroke="#000" stroke-width="1.45" fill="none">
<rect x="555.6" y="303.1" width="355.2" height="331"/>
<path d="M585.2 634.1v-4M585.2 303.1v4M555.6 606.5h4M910.8 606.5h-4M614.8 634.1v-7.5M614.8 303.1v7.5M555.6 578.9h7.5M910.8 578.9h-7.5M644.4 634.1v-4M644.4 303.1v4M555.6 551.4h4M910.8 551.4h-4M674 634.1v-7.5M674 303.1v7.5M555.6 523.8h7.5M910.8 523.8h-7.5M703.6 634.1v-4M703.6 303.1v4M555.6 496.2h4M910.8 496.2h-4M733.2 634.1v-7.5M733.2 303.1v7.5M555.6 468.6h7.5M910.8 468.6h-7.5M762.8 634.1v-4M762.8 303.1v4M555.6 441h4M910.8 441h-4M792.4 634.1v-7.5M792.4 303.1v7.5M555.6 413.4h7.5M910.8 413.4h-7.5M822 634.1v-4M822 303.1v4M555.6 385.9h4M910.8 385.9h-4M851.6 634.1v-7.5M851.6 303.1v7.5M555.6 358.3h7.5M910.8 358.3h-7.5M881.2 634.1v-4M881.2 303.1v4M555.6 330.7h4M910.8 330.7h-4"/>
</g>
<g font-size="20.3">
<text x="555.6" y="657.7" text-anchor="middle">-60</text>
<text x="546.7" y="640.3" text-anchor="end">-60</text>
<text x="614.8" y="657.7" text-anchor="middle">-40</text>
<text x="546.7" y="585.1" text-anchor="end">-40</text>
<text x="674" y="657.7" text-anchor="middle">-20</text>
<text x="546.7" y="530" text-anchor="end">-20</text>
<text x="733.2" y="657.7" text-anchor="middle">0</text>
<text x="546.7" y="474.8" text-anchor="end">0</text>
<text x="792.4" y="657.7" text-anchor="middle">20</text>
<text x="546.7" y="419.6" text-anchor="end">20</text>
<text x="851.6" y="657.7" text-anchor="middle">40</text>
<text x="546.7" y="364.5" text-anchor="end">40</text>
<text x="910.8" y="657.7" text-anchor="middle">60</text>
<text x="546.7" y="309.3" text-anchor="end">60</text>
</g>
<rect x="444.9" y="301.00" width="22.1" height="332.85" fill="#7f1316"/>
<rect x="444.9" y="305.33" width="22.1" height="328.52" fill="#8f161a"/>
<rect x="444.9" y="310.56" width="22.1" height="323.29" fill="#a01a1e"/>
<rect x="444.9" y="315.79" width="22.1" height="318.06" fill="#b01d22"/>
<rect x="444.9" y="321.02" width="22.1" height="312.83" fill="#c02026"/>
<rect x="444.9" y="326.24" width="22.1" height="307.61" fill="#cb1f26"/>
<rect x="444.9" y="331.47" width="22.1" height="302.38" fill="#d61e25"/>
<rect x="444.9" y="336.70" width="22.1" height="297.15" fill="#e21d24"/>
<rect x="444.9" y="341.93" width="22.1" height="291.92" fill="#ed1c24"/>
<rect x="444.9" y="347.16" width="22.1" height="286.69" fill="#ee2624"/>
<rect x="444.9" y="352.39" width="22.1" height="281.46" fill="#ee3124"/>
<rect x="444.9" y="357.62" width="22.1" height="276.23" fill="#ef3c23"/>
<rect x="444.9" y="362.85" width="22.1" height="271.00" fill="#f04623"/>
<rect x="444.9" y="368.08" width="22.1" height="265.77" fill="#f25522"/>
<rect x="444.9" y="373.30" width="22.1" height="260.55" fill="#f36422"/>
<rect x="444.9" y="378.53" width="22.1" height="255.32" fill="#f47321"/>
<rect x="444.9" y="383.76" width="22.1" height="250.09" fill="#f68220"/>
<rect x="444.9" y="388.99" width="22.1" height="244.86" fill="#f8911c"/>
<rect x="444.9" y="394.22" width="22.1" height="239.63" fill="#faa018"/>
<rect x="444.9" y="399.45" width="22.1" height="234.40" fill="#fbaf15"/>
<rect x="444.9" y="404.68" width="22.1" height="229.17" fill="#fdbe11"/>
<rect x="444.9" y="409.91" width="22.1" height="223.94" fill="#fcca15"/>
<rect x="444.9" y="415.14" width="22.1" height="218.71" fill="#fcd61a"/>
<rect x="444.9" y="420.36" width="22.1" height="213.49" fill="#fbe11e"/>
<rect x="444.9" y="425.59" width="22.1" height="208.26" fill="#faed22"/>
<rect x="444.9" y="430.82" width="22.1" height="203.03" fill="#ebe828"/>
<rect x="444.9" y="436.05" width="22.1" height="197.80" fill="#dce22f"/>
<rect x="444.9" y="441.28" width="22.1" height="192.57" fill="#cddc36"/>
<rect x="444.9" y="446.51" width="22.1" height="187.34" fill="#bed73c"/>
<rect x="444.9" y="451.74" width="22.1" height="182.11" fill="#b2d34c"/>
<rect x="444.9" y="456.97" width="22.1" height="176.88" fill="#a6d05b"/>
<rect x="444.9" y="462.20" width="22.1" height="171.65" fill="#99cc6a"/>
<rect x="444.9" y="467.43" width="22.1" height="166.43" fill="#8dc87a"/>
<rect x="444.9" y="472.65" width="22.1" height="161.20" fill="#88c888"/>
<rect x="444.9" y="477.88" width="22.1" height="155.97" fill="#82c896"/>
<rect x="444.9" y="483.11" width="22.1" height="150.74" fill="#7dc8a5"/>
<rect x="444.9" y="488.34" width="22.1" height="145.51" fill="#78c9b4"/>
<rect x="444.9" y="493.57" width="22.1" height="140.28" fill="#74cac0"/>
<rect x="444.9" y="498.80" width="22.1" height="135.05" fill="#70cbcd"/>
<rect x="444.9" y="504.03" width="22.1" height="129.82" fill="#6ccbd8"/>
<rect x="444.9" y="509.26" width="22.1" height="124.59" fill="#67cbe4"/>
<rect x="444.9" y="514.49" width="22.1" height="119.36" fill="#5ac8eb"/>
<rect x="444.9" y="519.71" width="22.1" height="114.14" fill="#46c5f0"/>
<rect x="444.9" y="524.94" width="22.1" height="108.91" fill="#34c2f2"/>
<rect x="444.9" y="530.17" width="22.1" height="103.68" fill="#3eb8ec"/>
<rect x="444.9" y="535.40" width="22.1" height="98.45" fill="#44a7df"/>
<rect x="444.9" y="540.63" width="22.1" height="93.22" fill="#4498d4"/>
<rect x="444.9" y="545.86" width="22.1" height="87.99" fill="#4289c9"/>
<rect x="444.9" y="551.09" width="22.1" height="82.76" fill="#417dc0"/>
<rect x="444.9" y="556.32" width="22.1" height="77.53" fill="#4074ba"/>
<rect x="444.9" y="561.55" width="22.1" height="72.30" fill="#3f6cb4"/>
<rect x="444.9" y="566.77" width="22.1" height="67.08" fill="#3e66b0"/>
<rect x="444.9" y="572.00" width="22.1" height="61.85" fill="#3d61ac"/>
<rect x="444.9" y="577.23" width="22.1" height="56.62" fill="#3c5daa"/>
<rect x="444.9" y="582.46" width="22.1" height="51.39" fill="#3b59a7"/>
<rect x="444.9" y="587.69" width="22.1" height="46.16" fill="#3a56a6"/>
<rect x="444.9" y="592.92" width="22.1" height="40.93" fill="#3953a4"/>
<rect x="444.9" y="598.15" width="22.1" height="35.70" fill="#374fa2"/>
<rect x="444.9" y="603.38" width="22.1" height="30.47" fill="#364ca1"/>
<rect x="444.9" y="608.61" width="22.1" height="25.24" fill="#34489f"/>
<rect x="444.9" y="613.83" width="22.1" height="20.02" fill="#31419b"/>
<rect x="444.9" y="619.06" width="22.1" height="14.79" fill="#2f3a95"/>
<rect x="444.9" y="624.29" width="22.1" height="9.56" fill="#2d338d"/>
<rect x="444.9" y="629.52" width="22.1" height="4.33" fill="#2c2f86"/>
<rect x="444.90" y="301.00" width="22.10" height="332.85" fill="none" stroke="#4b4c4f" stroke-width="1.8"/>
<path d="M466.2 341.8h-3M466.2 391.3h-3M466.2 440.8h-3M466.2 490.4h-3M466.2 539.9h-3M466.2 589.4h-3" stroke="#4a515a" stroke-width="1.5" fill="none"/>
<g font-size="16.1">
<text x="471.5" y="346">3</text>
<text x="471.5" y="395.5">2.5</text>
<text x="471.5" y="445">2</text>
<text x="471.5" y="494.6">1.5</text>
<text x="471.5" y="544.1">1</text>
<text x="471.5" y="593.6">0.5</text>
</g>
<rect x="929" y="302.90" width="22.9" height="331.80" fill="#7f1316"/>
<rect x="929" y="307.21" width="22.9" height="327.49" fill="#8f161a"/>
<rect x="929" y="312.43" width="22.9" height="322.28" fill="#a01a1e"/>
<rect x="929" y="317.64" width="22.9" height="317.06" fill="#b01d22"/>
<rect x="929" y="322.85" width="22.9" height="311.85" fill="#c02026"/>
<rect x="929" y="328.06" width="22.9" height="306.64" fill="#cb1f26"/>
<rect x="929" y="333.27" width="22.9" height="301.43" fill="#d61e25"/>
<rect x="929" y="338.49" width="22.9" height="296.21" fill="#e21d24"/>
<rect x="929" y="343.70" width="22.9" height="291.00" fill="#ed1c24"/>
<rect x="929" y="348.91" width="22.9" height="285.79" fill="#ee2624"/>
<rect x="929" y="354.12" width="22.9" height="280.58" fill="#ee3124"/>
<rect x="929" y="359.34" width="22.9" height="275.36" fill="#ef3c23"/>
<rect x="929" y="364.55" width="22.9" height="270.15" fill="#f04623"/>
<rect x="929" y="369.76" width="22.9" height="264.94" fill="#f25522"/>
<rect x="929" y="374.98" width="22.9" height="259.73" fill="#f36422"/>
<rect x="929" y="380.19" width="22.9" height="254.51" fill="#f47321"/>
<rect x="929" y="385.40" width="22.9" height="249.30" fill="#f68220"/>
<rect x="929" y="390.61" width="22.9" height="244.09" fill="#f8911c"/>
<rect x="929" y="395.83" width="22.9" height="238.88" fill="#faa018"/>
<rect x="929" y="401.04" width="22.9" height="233.66" fill="#fbaf15"/>
<rect x="929" y="406.25" width="22.9" height="228.45" fill="#fdbe11"/>
<rect x="929" y="411.46" width="22.9" height="223.24" fill="#fcca15"/>
<rect x="929" y="416.68" width="22.9" height="218.03" fill="#fcd61a"/>
<rect x="929" y="421.89" width="22.9" height="212.81" fill="#fbe11e"/>
<rect x="929" y="427.10" width="22.9" height="207.60" fill="#faed22"/>
<rect x="929" y="432.31" width="22.9" height="202.39" fill="#ebe828"/>
<rect x="929" y="437.52" width="22.9" height="197.18" fill="#dce22f"/>
<rect x="929" y="442.74" width="22.9" height="191.96" fill="#cddc36"/>
<rect x="929" y="447.95" width="22.9" height="186.75" fill="#bed73c"/>
<rect x="929" y="453.16" width="22.9" height="181.54" fill="#b2d34c"/>
<rect x="929" y="458.38" width="22.9" height="176.33" fill="#a6d05b"/>
<rect x="929" y="463.59" width="22.9" height="171.11" fill="#99cc6a"/>
<rect x="929" y="468.80" width="22.9" height="165.90" fill="#8dc87a"/>
<rect x="929" y="474.01" width="22.9" height="160.69" fill="#88c888"/>
<rect x="929" y="479.23" width="22.9" height="155.48" fill="#82c896"/>
<rect x="929" y="484.44" width="22.9" height="150.26" fill="#7dc8a5"/>
<rect x="929" y="489.65" width="22.9" height="145.05" fill="#78c9b4"/>
<rect x="929" y="494.86" width="22.9" height="139.84" fill="#74cac0"/>
<rect x="929" y="500.08" width="22.9" height="134.62" fill="#70cbcd"/>
<rect x="929" y="505.29" width="22.9" height="129.41" fill="#6ccbd8"/>
<rect x="929" y="510.50" width="22.9" height="124.20" fill="#67cbe4"/>
<rect x="929" y="515.71" width="22.9" height="118.99" fill="#5ac8eb"/>
<rect x="929" y="520.92" width="22.9" height="113.78" fill="#46c5f0"/>
<rect x="929" y="526.14" width="22.9" height="108.56" fill="#34c2f2"/>
<rect x="929" y="531.35" width="22.9" height="103.35" fill="#3eb8ec"/>
<rect x="929" y="536.56" width="22.9" height="98.14" fill="#44a7df"/>
<rect x="929" y="541.77" width="22.9" height="92.93" fill="#4498d4"/>
<rect x="929" y="546.99" width="22.9" height="87.71" fill="#4289c9"/>
<rect x="929" y="552.20" width="22.9" height="82.50" fill="#417dc0"/>
<rect x="929" y="557.41" width="22.9" height="77.29" fill="#4074ba"/>
<rect x="929" y="562.62" width="22.9" height="72.08" fill="#3f6cb4"/>
<rect x="929" y="567.84" width="22.9" height="66.86" fill="#3e66b0"/>
<rect x="929" y="573.05" width="22.9" height="61.65" fill="#3d61ac"/>
<rect x="929" y="578.26" width="22.9" height="56.44" fill="#3c5daa"/>
<rect x="929" y="583.48" width="22.9" height="51.23" fill="#3b59a7"/>
<rect x="929" y="588.69" width="22.9" height="46.01" fill="#3a56a6"/>
<rect x="929" y="593.90" width="22.9" height="40.80" fill="#3953a4"/>
<rect x="929" y="599.11" width="22.9" height="35.59" fill="#374fa2"/>
<rect x="929" y="604.33" width="22.9" height="30.38" fill="#364ca1"/>
<rect x="929" y="609.54" width="22.9" height="25.16" fill="#34489f"/>
<rect x="929" y="614.75" width="22.9" height="19.95" fill="#31419b"/>
<rect x="929" y="619.96" width="22.9" height="14.74" fill="#2f3a95"/>
<rect x="929" y="625.18" width="22.9" height="9.52" fill="#2d338d"/>
<rect x="929" y="630.39" width="22.9" height="4.31" fill="#2c2f86"/>
<rect x="929.00" y="302.90" width="22.90" height="331.80" fill="none" stroke="#4b4c4f" stroke-width="1.8"/>
<path d="M951.1 320.6h-3M951.1 361.4h-3M951.1 402.1h-3M951.1 442.9h-3M951.1 483.6h-3M951.1 524.4h-3M951.1 565.1h-3M951.1 605.9h-3" stroke="#111" stroke-width="1.5" fill="none"/>
<g font-size="16.1">
<text x="956" y="326.2">1.5</text>
<text x="956" y="367">1.4</text>
<text x="956" y="407.7">1.3</text>
<text x="956" y="448.5">1.2</text>
<text x="956" y="489.2">1.1</text>
<text x="956" y="530">1.0</text>
<text x="956" y="570.7">0.9</text>
<text x="956" y="611.5">0.8</text>
</g>
<g font-size="22.4">
<text x="252.2" y="678.6" text-anchor="middle">x (nm)</text>
<text x="740.2" y="679.5" text-anchor="middle">x (nm)</text>
<text transform="translate(29.1 466.2) rotate(-90)" text-anchor="middle">y (nm)</text>
<text transform="translate(518.4 464.2) rotate(-90)" text-anchor="middle">y (nm)</text>
</g>
<text x="84" y="336.3" font-size="28">Au</text>
<text x="568.2" y="337.4" font-size="28.8">SiO<tspan dy="5.3" font-size="18.3">2</tspan></text>
<g font-size="37.5">
<text x="3 14.9 35.2" y="34.2">(a)</text>
<text x="2.6 13.5 34.6" y="277.6">(b)</text>
<text x="486.2 497.9 516.5" y="279.5">(c)</text>
</g>
<g id="panel-a">
<path d="M158.5 166.2C161.2 166.4 169.2 167.1 175 167.6C180.8 168.1 187.7 168.8 193 169.4C198.3 170 203 170.6 207 170.9C211 171.2 213.4 171.7 216.8 171.3C220.2 170.9 222.6 170.9 227.4 168.3C232.2 165.7 240.2 159.4 245.9 155.6C251.6 151.8 257.2 147.8 261.8 145.6C266.4 143.4 269.3 142.6 273.7 142.6C278.1 142.6 283.7 143.4 288.3 145.8C292.9 148.2 295.3 149.1 301.5 156.9C307.7 164.7 317.8 181.4 325.3 192.7C332.8 203.9 340.8 216.7 346.5 224.4C352.2 232.1 356 235.7 359.8 239C363.6 242.3 365.8 244.2 369.3 244.5C372.8 244.8 377.2 243.5 380.8 240.6C384.4 237.7 387.7 233.3 390.9 227.1C394.1 220.9 396.6 215.5 400 203.3C403.4 191.1 409 164.6 411.5 154C414 143.4 412.4 148.8 415 140C417.6 131.2 422.4 113.3 426.8 101.5C431.2 89.7 436 78.1 441.1 68.9C446.2 59.7 451.3 51.7 457.4 46.5C463.5 41.3 471.4 38.1 477.8 37.9C484.2 37.7 490.7 41.2 496.1 45.5C501.5 49.8 505.9 56.8 510.3 63.8C514.7 70.8 519 79.2 522.6 87.2C526.2 95.2 528.7 102.8 531.7 111.6C534.8 120.4 537.9 129.4 540.9 140C543.9 150.6 546.8 163.1 550 175C553.2 186.9 556.6 201.2 560 211.2C563.4 221.2 566.2 229.6 570.6 235C575 240.4 581.2 243.4 586.5 243.8C591.8 244.2 597.1 242.7 602.4 237.7C607.7 232.7 613.4 222.2 618.2 213.8C623.1 205.4 627.5 196.2 631.5 187.4C635.5 178.6 639 167.4 642.1 160.9C645.2 154.4 646.5 151.6 650 148.5C653.5 145.4 658.4 143.4 663.3 142.6C668.1 141.8 671.6 142.4 679.1 143.9C686.6 145.4 699.5 149 708.3 151.6C717.1 154.2 726.4 157.8 732.1 159.6C737.8 161.4 739.4 161.7 742.7 162.2C746 162.7 750.5 162.7 752 162.8" fill="none" stroke="#ee3e2b" stroke-width="7.1" stroke-linejoin="round"/>
<path d="M749.8 149.4L786.6 162.8L749.8 176.2z" fill="#ee3e2b"/>
<ellipse cx="474" cy="145.7" rx="55.7" ry="54.9" fill="#fccb84" stroke="#000" stroke-width="1.7"/>
<circle cx="447.9" cy="113" r="11.1" fill="#ef5044" stroke="#000" stroke-width="1.3"/>
<circle cx="473.1" cy="105" r="11.1" fill="#ef5044" stroke="#000" stroke-width="1.3"/>
<circle cx="498.3" cy="112.5" r="11.1" fill="#ef5044" stroke="#000" stroke-width="1.3"/>
<circle cx="448.2" cy="180" r="11.1" fill="#00a9e8" stroke="#000" stroke-width="1.3"/>
<circle cx="473.8" cy="187.5" r="11.1" fill="#00a9e8" stroke="#000" stroke-width="1.3"/>
<circle cx="499.2" cy="179.3" r="11.1" fill="#00a9e8" stroke="#000" stroke-width="1.3"/>
<g font-weight="bold" font-size="23" text-anchor="middle">
<text x="448.2" y="123.8">+</text>
<text x="473.7" y="115.6">+</text>
<text x="498.1" y="123.5">+</text>
<text transform="translate(448.3 186.7) scale(1.16 1)">-</text>
<text transform="translate(473.4 193.8) scale(1.16 1)">-</text>
<text transform="translate(498.9 185.6) scale(1.16 1)">-</text>
</g>
<g fill="none" stroke="#2b4b7c" stroke-width="3.1">
<path d="M445.6 90.2C444.2 88.9 440.1 85 437 82.5C433.9 80 430.3 77.5 427 75.5C423.7 73.5 420.4 71.6 417 70.3C413.6 69 409.8 67.8 406.3 67.6C402.8 67.3 399.2 67.8 396 68.8C392.8 69.8 389.6 71.5 387 73.5C384.4 75.5 382.5 77.9 380.5 80.5C378.5 83.1 377.3 84.1 374.9 89C372.5 93.9 368.2 103.2 366.2 110C364.2 116.8 363.6 124.2 363 130C362.4 135.8 362.5 140 362.6 145C362.7 150 363 154.8 363.6 160C364.2 165.2 365.2 171.1 366.2 176C367.2 180.9 368.4 185.2 369.7 189.3C371 193.4 372.4 197.1 374 200.5C375.6 203.9 377.1 206.8 379 209.5C380.9 212.2 383 214.9 385.5 217C388 219.1 390.8 220.9 394 222C397.2 223.1 400.5 223.9 404.6 223.7C408.7 223.4 413.9 222.4 418.5 220.5C423.1 218.6 427.9 215.1 432.5 212C437.1 208.9 443.7 203.6 445.9 201.9"/>
<path d="M501 90.2C502.4 88.9 506.5 85 509.6 82.5C512.7 80 516.3 77.5 519.6 75.5C522.9 73.5 526.2 71.6 529.6 70.3C533 69 536.8 67.8 540.3 67.6C543.8 67.3 547.4 67.8 550.6 68.8C553.8 69.8 557 71.5 559.6 73.5C562.2 75.5 564.1 77.9 566.1 80.5C568.1 83.1 569.3 84.1 571.7 89C574.1 93.9 578.4 103.2 580.4 110C582.4 116.8 583 124.2 583.6 130C584.2 135.8 584.1 140 584 145C583.9 150 583.6 154.8 583 160C582.4 165.2 581.4 171.1 580.4 176C579.4 180.9 578.2 185.2 576.9 189.3C575.6 193.4 574.2 197.1 572.6 200.5C571 203.9 569.5 206.8 567.6 209.5C565.7 212.2 563.6 214.9 561.1 217C558.6 219.1 555.8 220.9 552.6 222C549.4 223.1 546.1 223.9 542 223.7C537.9 223.4 532.8 222.4 528.1 220.5C523.5 218.6 518.7 215.1 514.1 212C509.5 208.9 502.9 203.6 500.7 201.9"/>
<path d="M434.2 99.5C433.1 98.4 429.7 94.4 427.5 92.7C425.3 91 423 89.9 421 89.2C419 88.5 417.2 88.4 415.5 88.6C413.8 88.8 412 89.3 410.5 90.5C409 91.7 407.6 93.4 406.3 95.5C405.1 97.6 404 100.1 403 103C402 105.9 401.3 108.5 400.2 113C399.1 117.5 397.2 124.5 396.3 130C395.4 135.5 394.8 141 394.7 146C394.6 151 395 155 395.6 160C396.2 165 397.4 171.4 398.5 176C399.6 180.6 400.8 184.2 402 187.6C403.2 191 404.3 194.1 405.5 196.5C406.7 198.9 407.7 200.4 409 201.9C410.3 203.4 411.7 204.6 413.3 205.4C414.9 206.2 416.2 206.9 418.5 206.7C420.8 206.5 424.2 205.9 427.3 204.2C430.4 202.5 435.3 197.6 436.9 196.3"/>
<path d="M512.4 99.5C513.5 98.4 516.9 94.4 519.1 92.7C521.3 91 523.6 89.9 525.6 89.2C527.6 88.5 529.4 88.4 531.1 88.6C532.9 88.8 534.6 89.3 536.1 90.5C537.6 91.7 539 93.4 540.3 95.5C541.5 97.6 542.6 100.1 543.6 103C544.6 105.9 545.3 108.5 546.4 113C547.5 117.5 549.4 124.5 550.3 130C551.2 135.5 551.8 141 551.9 146C552 151 551.6 155 551 160C550.4 165 549.2 171.4 548.1 176C547 180.6 545.8 184.2 544.6 187.6C543.4 191 542.3 194.1 541.1 196.5C539.9 198.9 538.9 200.4 537.6 201.9C536.3 203.4 534.9 204.6 533.3 205.4C531.7 206.2 530.4 206.9 528.1 206.7C525.8 206.5 522.4 205.9 519.3 204.2C516.2 202.5 511.3 197.6 509.7 196.3"/>
</g>
<g fill="#2b4b7c">
<path d="M377.2 71.5L391.8 81L372.8 89.7z"/>
<path d="M569.4 71.5L554.8 81L573.8 89.7z"/>
<path d="M397.6 91.1L414.2 99.5L400.2 111.2z"/>
<path d="M549 91.1L532.4 99.5L546.4 111.2z"/>
<path d="M361.3 194.2L377.9 186.4L377 207.7z"/>
<path d="M585.3 194.2L568.7 186.4L569.6 207.7z"/>
<path d="M392 190.7L407.7 182L408.4 201.6z"/>
<path d="M554.6 190.7L538.9 182L538.2 201.6z"/>
</g>
<text transform="translate(349.5 68.3) scale(0.91 1)" font-size="32.5" font-weight="bold" fill="#2b4b7c">E</text>
</g>
</svg>
</body></html>
